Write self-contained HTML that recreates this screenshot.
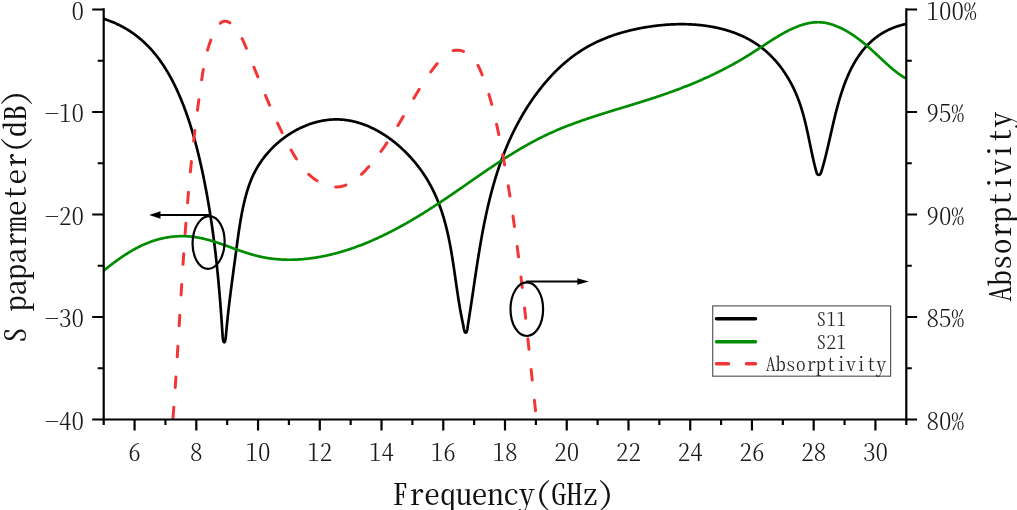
<!DOCTYPE html>
<html><head><meta charset="utf-8"><style>
html,body{margin:0;padding:0;background:#fff;}
svg{display:block;}
text{font-family:"Liberation Serif",serif;}
.tk text{font-size:25px;font-family:"Noto Serif CJK SC","Liberation Serif",serif;font-feature-settings:"hwid" 1;font-weight:300;}
</style></head><body>
<svg width="1017" height="510" viewBox="0 0 1017 510">
<rect width="1017" height="510" fill="#fff"/>
<defs><clipPath id="pa"><rect x="103.70" y="0" width="802.60" height="419.50"/></clipPath></defs>
<g fill="none" stroke-linejoin="round" stroke-linecap="round" clip-path="url(#pa)">
<path d="M103.79,18.89 L104.47,19.11 L105.15,19.33 L105.83,19.55 L106.50,19.78 L107.17,20.01 L107.83,20.25 L108.49,20.48 L109.15,20.73 L109.81,20.97 L110.46,21.22 L111.11,21.47 L111.75,21.73 L112.39,21.99 L113.03,22.25 L113.66,22.52 L114.30,22.79 L114.92,23.06 L115.55,23.34 L116.17,23.62 L116.79,23.90 L117.40,24.19 L118.01,24.48 L118.62,24.77 L119.23,25.07 L119.83,25.37 L120.43,25.67 L121.02,25.98 L121.61,26.29 L122.20,26.60 L122.79,26.92 L123.37,27.24 L123.95,27.56 L124.53,27.89 L125.10,28.21 L125.67,28.55 L126.24,28.88 L126.80,29.22 L127.36,29.56 L127.92,29.90 L128.47,30.25 L129.03,30.60 L129.57,30.96 L130.12,31.31 L130.66,31.67 L131.20,32.03 L131.74,32.40 L132.27,32.77 L132.80,33.14 L133.33,33.51 L133.86,33.89 L134.38,34.27 L134.90,34.65 L135.41,35.03 L135.93,35.42 L136.44,35.81 L136.95,36.21 L137.45,36.60 L137.95,37.00 L138.45,37.40 L138.95,37.81 L139.44,38.22 L139.93,38.63 L140.42,39.04 L140.91,39.45 L141.39,39.87 L141.87,40.29 L142.35,40.71 L142.82,41.14 L143.29,41.57 L143.76,42.00 L144.23,42.43 L144.69,42.87 L145.15,43.30 L145.61,43.75 L146.07,44.19 L146.52,44.63 L146.97,45.08 L147.42,45.53 L147.87,45.98 L148.31,46.44 L148.75,46.90 L149.19,47.36 L149.62,47.82 L150.06,48.28 L150.49,48.75 L150.91,49.22 L151.34,49.69 L151.76,50.16 L152.18,50.64 L152.60,51.12 L153.02,51.60 L153.43,52.08 L153.84,52.56 L154.25,53.05 L154.65,53.54 L155.06,54.03 L155.46,54.52 L155.86,55.02 L156.26,55.51 L156.65,56.01 L157.04,56.51 L157.43,57.02 L157.82,57.52 L158.20,58.03 L158.59,58.54 L158.97,59.05 L159.35,59.56 L159.72,60.07 L160.10,60.59 L160.47,61.11 L160.84,61.63 L161.20,62.15 L161.57,62.68 L161.93,63.20 L162.29,63.73 L162.65,64.26 L163.01,64.79 L163.36,65.32 L163.72,65.86 L164.07,66.39 L164.41,66.93 L164.76,67.47 L165.10,68.01 L165.45,68.56 L165.79,69.10 L166.12,69.65 L166.46,70.19 L166.79,70.74 L167.13,71.29 L167.46,71.85 L167.79,72.40 L168.11,72.96 L168.44,73.51 L168.76,74.07 L169.08,74.63 L169.40,75.19 L169.71,75.76 L170.03,76.32 L170.34,76.89 L170.65,77.45 L170.96,78.02 L171.27,78.59 L171.58,79.16 L171.88,79.74 L172.18,80.31 L172.48,80.88 L172.78,81.46 L173.08,82.04 L173.37,82.62 L173.67,83.20 L173.96,83.78 L174.25,84.36 L174.54,84.94 L174.82,85.53 L175.11,86.11 L175.39,86.70 L175.67,87.29 L175.96,87.88 L176.23,88.47 L176.51,89.06 L176.79,89.65 L177.06,90.24 L177.33,90.84 L177.60,91.43 L177.87,92.03 L178.14,92.63 L178.41,93.22 L178.67,93.82 L178.93,94.42 L179.19,95.02 L179.45,95.62 L179.71,96.23 L179.97,96.83 L180.23,97.43 L180.48,98.04 L180.73,98.64 L180.99,99.25 L181.24,99.86 L181.48,100.47 L181.73,101.07 L181.98,101.68 L182.22,102.29 L182.47,102.90 L182.71,103.52 L182.95,104.13 L183.19,104.74 L183.43,105.35 L183.66,105.97 L183.90,106.58 L184.13,107.20 L184.37,107.81 L184.60,108.43 L184.83,109.05 L185.06,109.67 L185.29,110.28 L185.51,110.90 L185.74,111.52 L185.96,112.14 L186.18,112.76 L186.41,113.38 L186.63,114.01 L186.85,114.63 L187.06,115.25 L187.28,115.88 L187.50,116.50 L187.71,117.12 L187.92,117.75 L188.14,118.37 L188.35,119.00 L188.56,119.63 L188.77,120.25 L188.97,120.88 L189.18,121.51 L189.39,122.14 L189.59,122.77 L189.79,123.40 L190.00,124.03 L190.20,124.66 L190.40,125.29 L190.59,125.92 L190.79,126.55 L190.99,127.18 L191.18,127.82 L191.38,128.45 L191.57,129.08 L191.76,129.72 L191.96,130.35 L192.15,130.99 L192.34,131.62 L192.52,132.26 L192.71,132.89 L192.90,133.53 L193.08,134.17 L193.27,134.80 L193.45,135.44 L193.63,136.08 L193.81,136.72 L193.99,137.35 L194.17,137.99 L194.35,138.63 L194.53,139.27 L194.70,139.91 L194.88,140.55 L195.06,141.19 L195.23,141.83 L195.40,142.47 L195.57,143.11 L195.74,143.75 L195.91,144.39 L196.08,145.04 L196.25,145.68 L196.42,146.32 L196.59,146.96 L196.75,147.60 L196.92,148.25 L197.08,148.89 L197.24,149.53 L197.41,150.18 L197.57,150.82 L197.73,151.46 L197.89,152.11 L198.05,152.75 L198.20,153.40 L198.36,154.04 L198.52,154.69 L198.67,155.33 L198.83,155.98 L198.98,156.62 L199.14,157.27 L199.29,157.91 L199.44,158.56 L199.59,159.20 L199.74,159.85 L199.89,160.49 L200.04,161.14 L200.19,161.78 L200.34,162.43 L200.49,163.08 L200.63,163.72 L200.78,164.37 L200.92,165.01 L201.07,165.66 L201.21,166.31 L201.35,166.95 L201.50,167.60 L201.64,168.24 L201.78,168.89 L201.92,169.54 L202.06,170.18 L202.20,170.83 L202.34,171.48 L202.47,172.12 L202.61,172.77 L202.75,173.41 L202.88,174.06 L203.02,174.71 L203.15,175.35 L203.29,176.00 L203.42,176.64 L203.56,177.29 L203.69,177.94 L203.82,178.58 L203.95,179.23 L204.08,179.87 L204.21,180.52 L204.34,181.17 L204.47,181.81 L204.60,182.46 L204.73,183.10 L204.85,183.75 L204.98,184.40 L205.10,185.04 L205.23,185.69 L205.36,186.33 L205.48,186.98 L205.60,187.63 L205.73,188.27 L205.85,188.92 L205.97,189.56 L206.09,190.21 L206.21,190.85 L206.33,191.50 L206.45,192.15 L206.57,192.79 L206.69,193.44 L206.81,194.08 L206.93,194.73 L207.04,195.38 L207.16,196.02 L207.28,196.67 L207.39,197.31 L207.51,197.96 L207.62,198.60 L207.73,199.25 L207.85,199.90 L207.96,200.54 L208.07,201.19 L208.18,201.83 L208.29,202.48 L208.40,203.13 L208.51,203.77 L208.62,204.42 L208.73,205.06 L208.84,205.71 L208.95,206.36 L209.06,207.00 L209.16,207.65 L209.27,208.29 L209.38,208.94 L209.48,209.59 L209.59,210.23 L209.69,210.88 L209.79,211.53 L209.90,212.17 L210.00,212.82 L210.10,213.46 L210.20,214.11 L210.31,214.76 L210.41,215.40 L210.51,216.05 L210.61,216.69 L210.71,217.34 L210.81,217.99 L210.90,218.63 L211.00,219.28 L211.10,219.93 L211.20,220.57 L211.29,221.22 L211.39,221.87 L211.48,222.51 L211.58,223.16 L211.67,223.81 L211.77,224.45 L211.86,225.10 L211.96,225.75 L212.05,226.39 L212.14,227.04 L212.23,227.69 L212.32,228.33 L212.42,228.98 L212.51,229.63 L212.60,230.27 L212.69,230.92 L212.77,231.57 L212.86,232.22 L212.95,232.86 L213.04,233.51 L213.13,234.16 L213.21,234.80 L213.30,235.45 L213.39,236.10 L213.47,236.75 L213.56,237.39 L213.64,238.04 L213.73,238.69 L213.81,239.34 L213.89,239.98 L213.98,240.63 L214.06,241.28 L214.14,241.93 L214.23,242.57 L214.31,243.22 L214.39,243.87 L214.47,244.52 L214.55,245.17 L214.63,245.81 L214.71,246.46 L214.79,247.11 L214.87,247.76 L214.94,248.41 L215.02,249.05 L215.10,249.70 L215.18,250.35 L215.25,251.00 L215.33,251.65 L215.41,252.30 L215.48,252.95 L215.56,253.59 L215.63,254.24 L215.71,254.89 L215.78,255.54 L215.85,256.19 L215.93,256.84 L216.00,257.49 L216.07,258.14 L216.14,258.79 L216.22,259.43 L216.29,260.08 L216.36,260.73 L216.43,261.38 L216.50,262.03 L216.57,262.68 L216.64,263.33 L216.71,263.98 L216.78,264.63 L216.85,265.28 L216.92,265.93 L216.98,266.58 L217.05,267.23 L217.12,267.88 L217.18,268.53 L217.25,269.18 L217.32,269.83 L217.38,270.48 L217.45,271.13 L217.51,271.78 L217.58,272.43 L217.64,273.08 L217.71,273.74 L217.77,274.39 L217.84,275.04 L217.90,275.69 L217.96,276.34 L218.03,276.99 L218.09,277.64 L218.15,278.29 L218.21,278.94 L218.27,279.60 L218.33,280.25 L218.39,280.90 L218.46,281.55 L218.52,282.20 L218.58,282.85 L218.63,283.51 L218.69,284.16 L218.75,284.81 L218.81,285.46 L218.87,286.12 L218.93,286.77 L218.99,287.42 L219.04,288.07 L219.10,288.73 L219.16,289.38 L219.22,290.03 L219.27,290.68 L219.33,291.34 L219.38,291.99 L219.44,292.64 L219.50,293.30 L219.55,293.95 L219.61,294.61 L219.66,295.26 L219.71,295.91 L219.77,296.57 L219.82,297.22 L219.88,297.87 L219.93,298.53 L219.98,299.18 L220.03,299.84 L220.09,300.49 L220.14,301.15 L220.19,301.80 L220.24,302.46 L220.30,303.11 L220.35,303.77 L220.40,304.42 L220.45,305.08 L220.50,305.73 L220.55,306.39 L220.60,307.04 L220.65,307.70 L220.70,308.35 L220.75,309.01 L220.80,309.67 L220.85,310.32 L220.90,310.98 L220.94,311.63 L220.99,312.29 L221.04,312.95 L221.09,313.60 L221.14,314.26 L221.18,314.92 L221.23,315.58 L221.28,316.23 L221.33,316.89 L221.37,317.55 L221.42,318.20 L221.47,318.86 L221.51,319.52 L221.56,320.18 L221.60,320.84 L221.65,321.49 L221.69,322.15 L221.74,322.81 L221.79,323.47 L221.83,324.13 L221.87,324.79 L221.92,325.45 L221.96,326.10 L222.01,326.76 L222.05,327.42 L222.10,328.08 L222.14,328.74 L222.18,329.40 L222.23,330.06 L222.27,330.72 L222.31,331.38 L222.35,332.04 L222.40,332.70 L222.45,333.46 L222.50,334.21 L222.55,334.95 L222.61,335.68 L222.66,336.40 L222.73,337.09 L222.79,337.76 L222.87,338.40 L222.95,339.01 L223.03,339.58 L223.12,340.10 L223.22,340.58 L223.33,341.01 L223.45,341.39 L223.58,341.71 L223.72,341.96 L223.87,342.15 L224.03,342.26 L224.20,342.30 L224.37,342.26 L224.54,342.15 L224.69,341.96 L224.83,341.70 L224.97,341.39 L225.09,341.01 L225.21,340.58 L225.32,340.10 L225.42,339.57 L225.52,339.00 L225.61,338.40 L225.69,337.76 L225.77,337.09 L225.85,336.39 L225.92,335.68 L226.00,334.95 L226.07,334.21 L226.13,333.45 L226.20,332.70 L226.26,332.03 L226.32,331.37 L226.38,330.70 L226.44,330.04 L226.50,329.38 L226.56,328.71 L226.62,328.05 L226.68,327.39 L226.74,326.72 L226.81,326.06 L226.87,325.40 L226.94,324.74 L227.00,324.08 L227.07,323.42 L227.13,322.76 L227.20,322.10 L227.26,321.44 L227.33,320.78 L227.40,320.12 L227.47,319.46 L227.54,318.81 L227.60,318.15 L227.67,317.49 L227.74,316.83 L227.81,316.18 L227.88,315.52 L227.96,314.87 L228.03,314.21 L228.10,313.55 L228.17,312.90 L228.24,312.24 L228.32,311.59 L228.39,310.94 L228.47,310.28 L228.54,309.63 L228.61,308.97 L228.69,308.32 L228.77,307.67 L228.84,307.01 L228.92,306.36 L228.99,305.71 L229.07,305.06 L229.15,304.41 L229.23,303.75 L229.30,303.10 L229.38,302.45 L229.46,301.80 L229.54,301.15 L229.62,300.50 L229.70,299.85 L229.78,299.20 L229.86,298.55 L229.94,297.90 L230.02,297.25 L230.10,296.60 L230.18,295.95 L230.26,295.30 L230.34,294.65 L230.42,294.00 L230.51,293.35 L230.59,292.70 L230.67,292.05 L230.75,291.40 L230.84,290.75 L230.92,290.11 L231.00,289.46 L231.09,288.81 L231.17,288.16 L231.26,287.51 L231.34,286.86 L231.43,286.21 L231.51,285.57 L231.59,284.92 L231.68,284.27 L231.76,283.62 L231.85,282.97 L231.94,282.33 L232.02,281.68 L232.11,281.03 L232.19,280.38 L232.28,279.73 L232.37,279.09 L232.45,278.44 L232.54,277.79 L232.63,277.14 L232.71,276.49 L232.80,275.84 L232.89,275.20 L232.97,274.55 L233.06,273.90 L233.15,273.25 L233.23,272.60 L233.32,271.95 L233.41,271.30 L233.50,270.66 L233.58,270.01 L233.67,269.36 L233.76,268.71 L233.85,268.06 L233.93,267.41 L234.02,266.76 L234.11,266.11 L234.20,265.46 L234.29,264.81 L234.37,264.16 L234.46,263.51 L234.55,262.86 L234.64,262.21 L234.72,261.56 L234.81,260.91 L234.90,260.26 L234.99,259.61 L235.08,258.96 L235.16,258.30 L235.25,257.65 L235.34,257.00 L235.43,256.35 L235.51,255.70 L235.60,255.04 L235.69,254.39 L235.77,253.74 L235.86,253.09 L235.95,252.43 L236.04,251.78 L236.12,251.12 L236.21,250.47 L236.30,249.82 L236.38,249.16 L236.47,248.51 L236.56,247.85 L236.64,247.20 L236.73,246.54 L236.82,245.88 L236.90,245.23 L236.99,244.57 L237.08,243.92 L237.17,243.26 L237.26,242.60 L237.34,241.95 L237.43,241.29 L237.52,240.63 L237.61,239.98 L237.70,239.32 L237.79,238.66 L237.88,238.00 L237.97,237.35 L238.06,236.69 L238.16,236.03 L238.25,235.38 L238.34,234.72 L238.44,234.06 L238.53,233.40 L238.62,232.75 L238.72,232.09 L238.82,231.43 L238.91,230.77 L239.01,230.12 L239.11,229.46 L239.21,228.80 L239.31,228.14 L239.41,227.49 L239.51,226.83 L239.62,226.17 L239.72,225.52 L239.82,224.86 L239.93,224.20 L240.04,223.55 L240.14,222.89 L240.25,222.23 L240.36,221.58 L240.47,220.92 L240.58,220.26 L240.70,219.61 L240.81,218.95 L240.93,218.30 L241.04,217.64 L241.16,216.99 L241.28,216.33 L241.40,215.68 L241.52,215.02 L241.64,214.37 L241.77,213.72 L241.89,213.06 L242.02,212.41 L242.15,211.76 L242.28,211.10 L242.41,210.45 L242.55,209.80 L242.68,209.15 L242.82,208.49 L242.95,207.84 L243.09,207.19 L243.24,206.54 L243.38,205.89 L243.52,205.24 L243.67,204.59 L243.82,203.94 L243.97,203.29 L244.12,202.65 L244.27,202.00 L244.43,201.35 L244.58,200.70 L244.74,200.06 L244.90,199.41 L245.07,198.76 L245.23,198.12 L245.40,197.47 L245.57,196.83 L245.74,196.18 L245.91,195.54 L246.09,194.90 L246.27,194.26 L246.45,193.62 L246.63,192.98 L246.82,192.34 L247.01,191.70 L247.20,191.06 L247.39,190.42 L247.59,189.79 L247.79,189.15 L247.99,188.52 L248.19,187.89 L248.40,187.25 L248.61,186.62 L248.83,186.00 L249.04,185.37 L249.26,184.74 L249.49,184.12 L249.72,183.49 L249.95,182.87 L250.18,182.25 L250.42,181.63 L250.66,181.01 L250.91,180.39 L251.16,179.78 L251.41,179.17 L251.66,178.56 L251.92,177.95 L252.19,177.34 L252.46,176.73 L252.73,176.13 L253.01,175.53 L253.29,174.93 L253.57,174.33 L253.86,173.73 L254.16,173.14 L254.45,172.54 L254.76,171.95 L255.06,171.37 L255.38,170.78 L255.69,170.20 L256.01,169.61 L256.33,169.03 L256.66,168.46 L257.00,167.88 L257.33,167.31 L257.67,166.74 L258.02,166.17 L258.36,165.61 L258.72,165.04 L259.07,164.48 L259.43,163.92 L259.80,163.37 L260.17,162.81 L260.54,162.26 L260.91,161.71 L261.29,161.17 L261.68,160.62 L262.07,160.08 L262.46,159.54 L262.85,159.01 L263.25,158.47 L263.65,157.94 L264.06,157.41 L264.47,156.89 L264.88,156.36 L265.29,155.84 L265.71,155.33 L266.14,154.81 L266.56,154.30 L266.99,153.79 L267.43,153.28 L267.86,152.78 L268.30,152.28 L268.75,151.78 L269.19,151.29 L269.64,150.80 L270.10,150.31 L270.55,149.82 L271.01,149.34 L271.47,148.86 L271.94,148.38 L272.41,147.91 L272.88,147.44 L273.36,146.97 L273.83,146.51 L274.31,146.04 L274.80,145.59 L275.28,145.13 L275.77,144.68 L276.26,144.23 L276.76,143.79 L277.26,143.34 L277.76,142.91 L278.26,142.47 L278.77,142.04 L279.28,141.61 L279.79,141.18 L280.30,140.76 L280.82,140.34 L281.34,139.93 L281.86,139.52 L282.38,139.11 L282.91,138.71 L283.44,138.31 L283.97,137.91 L284.50,137.51 L285.04,137.12 L285.57,136.74 L286.12,136.35 L286.66,135.98 L287.20,135.60 L287.75,135.23 L288.30,134.86 L288.85,134.50 L289.40,134.13 L289.96,133.78 L290.52,133.43 L291.08,133.08 L291.64,132.73 L292.20,132.39 L292.77,132.05 L293.34,131.72 L293.91,131.39 L294.48,131.06 L295.05,130.74 L295.63,130.42 L296.20,130.11 L296.78,129.80 L297.36,129.50 L297.95,129.19 L298.53,128.90 L299.12,128.60 L299.70,128.31 L300.29,128.03 L300.88,127.75 L301.47,127.47 L302.07,127.20 L302.66,126.93 L303.26,126.67 L303.85,126.41 L304.45,126.16 L305.05,125.91 L305.66,125.66 L306.26,125.42 L306.86,125.18 L307.47,124.95 L308.07,124.72 L308.68,124.49 L309.29,124.28 L309.90,124.06 L310.51,123.85 L311.12,123.64 L311.74,123.44 L312.35,123.25 L312.97,123.05 L313.58,122.87 L314.20,122.68 L314.82,122.51 L315.44,122.33 L316.06,122.17 L316.68,122.00 L317.30,121.84 L317.92,121.69 L318.54,121.54 L319.17,121.40 L319.79,121.26 L320.42,121.12 L321.04,120.99 L321.67,120.87 L322.30,120.75 L322.92,120.63 L323.55,120.52 L324.18,120.42 L324.81,120.32 L325.44,120.22 L326.07,120.13 L326.69,120.05 L327.33,119.97 L327.96,119.90 L328.59,119.83 L329.22,119.76 L329.85,119.70 L330.48,119.65 L331.11,119.60 L331.74,119.56 L332.37,119.52 L333.01,119.49 L333.64,119.46 L334.27,119.44 L334.90,119.43 L335.53,119.42 L336.16,119.41 L336.80,119.41 L337.43,119.42 L338.06,119.43 L338.69,119.44 L339.32,119.47 L339.95,119.49 L340.58,119.53 L341.21,119.57 L341.84,119.61 L342.47,119.66 L343.10,119.72 L343.73,119.78 L344.36,119.84 L344.99,119.91 L345.61,119.99 L346.24,120.07 L346.87,120.16 L347.49,120.25 L348.12,120.35 L348.75,120.46 L349.37,120.56 L350.00,120.68 L350.62,120.80 L351.24,120.92 L351.86,121.05 L352.49,121.18 L353.11,121.32 L353.73,121.46 L354.35,121.61 L354.97,121.77 L355.59,121.93 L356.21,122.09 L356.82,122.26 L357.44,122.43 L358.06,122.61 L358.67,122.79 L359.28,122.98 L359.90,123.17 L360.51,123.37 L361.12,123.57 L361.73,123.77 L362.34,123.98 L362.95,124.20 L363.56,124.42 L364.17,124.64 L364.77,124.87 L365.38,125.11 L365.98,125.34 L366.59,125.59 L367.19,125.83 L367.79,126.08 L368.39,126.34 L368.99,126.60 L369.59,126.86 L370.19,127.13 L370.78,127.40 L371.38,127.68 L371.97,127.96 L372.56,128.24 L373.15,128.53 L373.74,128.82 L374.33,129.12 L374.92,129.42 L375.50,129.72 L376.09,130.03 L376.67,130.34 L377.26,130.66 L377.84,130.98 L378.42,131.30 L378.99,131.63 L379.57,131.96 L380.15,132.30 L380.72,132.64 L381.29,132.98 L381.86,133.33 L382.43,133.68 L383.00,134.03 L383.57,134.39 L384.13,134.75 L384.69,135.11 L385.26,135.48 L385.82,135.85 L386.37,136.23 L386.93,136.61 L387.49,136.99 L388.04,137.37 L388.59,137.76 L389.14,138.15 L389.69,138.55 L390.24,138.95 L390.78,139.35 L391.33,139.75 L391.87,140.16 L392.41,140.57 L392.94,140.98 L393.48,141.40 L394.01,141.82 L394.55,142.24 L395.08,142.67 L395.61,143.10 L396.13,143.53 L396.66,143.97 L397.18,144.41 L397.70,144.85 L398.22,145.29 L398.73,145.74 L399.25,146.19 L399.76,146.64 L400.27,147.09 L400.78,147.55 L401.29,148.01 L401.79,148.47 L402.29,148.94 L402.79,149.41 L403.29,149.88 L403.78,150.35 L404.28,150.83 L404.77,151.30 L405.26,151.78 L405.74,152.27 L406.23,152.75 L406.71,153.24 L407.19,153.73 L407.67,154.22 L408.14,154.72 L408.61,155.21 L409.08,155.71 L409.55,156.21 L410.02,156.72 L410.48,157.22 L410.94,157.73 L411.40,158.24 L411.85,158.75 L412.30,159.27 L412.76,159.78 L413.20,160.30 L413.65,160.82 L414.09,161.34 L414.53,161.87 L414.97,162.39 L415.40,162.92 L415.83,163.45 L416.26,163.98 L416.69,164.51 L417.11,165.05 L417.54,165.58 L417.95,166.12 L418.37,166.66 L418.78,167.20 L419.19,167.74 L419.60,168.29 L420.00,168.83 L420.41,169.38 L420.80,169.93 L421.20,170.48 L421.59,171.03 L421.98,171.58 L422.37,172.14 L422.75,172.69 L423.14,173.25 L423.51,173.81 L423.89,174.37 L424.26,174.93 L424.63,175.49 L425.00,176.05 L425.36,176.62 L425.72,177.18 L426.07,177.75 L426.43,178.32 L426.78,178.88 L427.13,179.45 L427.47,180.02 L427.81,180.60 L428.15,181.17 L428.48,181.74 L428.81,182.32 L429.14,182.89 L429.47,183.47 L429.79,184.05 L430.11,184.62 L430.43,185.20 L430.74,185.78 L431.05,186.37 L431.36,186.95 L431.66,187.53 L431.97,188.11 L432.27,188.70 L432.56,189.28 L432.86,189.87 L433.15,190.46 L433.43,191.05 L433.72,191.64 L434.00,192.23 L434.28,192.82 L434.56,193.41 L434.83,194.00 L435.10,194.60 L435.37,195.19 L435.64,195.79 L435.90,196.38 L436.16,196.98 L436.42,197.58 L436.68,198.17 L436.93,198.77 L437.18,199.37 L437.43,199.98 L437.68,200.58 L437.92,201.18 L438.16,201.78 L438.40,202.39 L438.64,202.99 L438.87,203.60 L439.10,204.20 L439.33,204.81 L439.56,205.42 L439.79,206.03 L440.01,206.64 L440.23,207.25 L440.45,207.86 L440.66,208.47 L440.88,209.08 L441.09,209.70 L441.30,210.31 L441.51,210.92 L441.71,211.54 L441.91,212.16 L442.12,212.77 L442.31,213.39 L442.51,214.01 L442.71,214.62 L442.90,215.24 L443.09,215.86 L443.28,216.48 L443.47,217.11 L443.65,217.73 L443.84,218.35 L444.02,218.97 L444.20,219.60 L444.37,220.22 L444.55,220.84 L444.72,221.47 L444.90,222.10 L445.07,222.72 L445.24,223.35 L445.40,223.98 L445.57,224.61 L445.73,225.23 L445.90,225.86 L446.06,226.49 L446.21,227.12 L446.37,227.76 L446.53,228.39 L446.68,229.02 L446.84,229.65 L446.99,230.28 L447.14,230.92 L447.28,231.55 L447.43,232.19 L447.58,232.82 L447.72,233.46 L447.86,234.09 L448.00,234.73 L448.14,235.37 L448.28,236.00 L448.42,236.64 L448.56,237.28 L448.69,237.92 L448.82,238.56 L448.96,239.20 L449.09,239.84 L449.22,240.48 L449.34,241.12 L449.47,241.76 L449.60,242.40 L449.72,243.05 L449.85,243.69 L449.97,244.33 L450.09,244.97 L450.21,245.62 L450.33,246.26 L450.45,246.91 L450.57,247.55 L450.69,248.20 L450.80,248.84 L450.92,249.49 L451.03,250.13 L451.14,250.78 L451.26,251.43 L451.37,252.07 L451.48,252.72 L451.59,253.37 L451.70,254.02 L451.80,254.67 L451.91,255.31 L452.02,255.96 L452.13,256.61 L452.23,257.26 L452.34,257.91 L452.44,258.56 L452.54,259.21 L452.65,259.86 L452.75,260.51 L452.85,261.16 L452.95,261.81 L453.05,262.47 L453.15,263.12 L453.25,263.77 L453.35,264.42 L453.45,265.07 L453.55,265.73 L453.65,266.38 L453.74,267.03 L453.84,267.68 L453.94,268.34 L454.03,268.99 L454.13,269.64 L454.22,270.30 L454.32,270.95 L454.42,271.61 L454.51,272.26 L454.61,272.91 L454.70,273.57 L454.79,274.22 L454.89,274.88 L454.98,275.53 L455.08,276.19 L455.17,276.84 L455.26,277.50 L455.36,278.15 L455.45,278.81 L455.55,279.46 L455.64,280.12 L455.73,280.77 L455.83,281.43 L455.92,282.08 L456.02,282.74 L456.11,283.39 L456.20,284.05 L456.30,284.70 L456.39,285.36 L456.49,286.01 L456.58,286.67 L456.68,287.33 L456.77,287.98 L456.87,288.64 L456.96,289.29 L457.06,289.95 L457.16,290.60 L457.25,291.26 L457.35,291.91 L457.45,292.57 L457.55,293.22 L457.65,293.88 L457.74,294.53 L457.84,295.19 L457.94,295.84 L458.04,296.50 L458.14,297.15 L458.25,297.81 L458.35,298.46 L458.45,299.12 L458.55,299.77 L458.66,300.43 L458.76,301.08 L458.87,301.74 L458.97,302.39 L459.08,303.04 L459.19,303.70 L459.29,304.35 L459.40,305.00 L459.51,305.66 L459.62,306.31 L459.73,306.96 L459.84,307.61 L459.96,308.27 L460.07,308.92 L460.18,309.57 L460.30,310.22 L460.42,310.88 L460.53,311.53 L460.65,312.18 L460.77,312.83 L460.89,313.48 L461.01,314.13 L461.13,314.78 L461.26,315.43 L461.38,316.08 L461.51,316.73 L461.63,317.38 L461.76,318.03 L461.89,318.68 L462.02,319.33 L462.15,319.97 L462.28,320.62 L462.42,321.27 L462.55,321.92 L462.69,322.56 L462.83,323.21 L462.97,323.86 L463.11,324.50 L463.24,325.13 L463.36,325.75 L463.47,326.37 L463.58,326.99 L463.69,327.59 L463.79,328.17 L463.90,328.73 L464.01,329.28 L464.11,329.79 L464.23,330.27 L464.35,330.72 L464.47,331.13 L464.61,331.50 L464.76,331.82 L464.91,332.09 L465.09,332.31 L465.27,332.47 L465.48,332.57 L465.70,332.60 L465.92,332.57 L466.12,332.47 L466.31,332.31 L466.48,332.09 L466.63,331.82 L466.77,331.51 L466.89,331.14 L467.01,330.73 L467.11,330.29 L467.21,329.80 L467.31,329.29 L467.39,328.75 L467.48,328.19 L467.56,327.60 L467.65,327.00 L467.73,326.39 L467.82,325.76 L467.91,325.13 L468.01,324.50 L468.12,323.85 L468.22,323.20 L468.33,322.55 L468.43,321.90 L468.54,321.25 L468.64,320.60 L468.74,319.95 L468.85,319.30 L468.95,318.65 L469.05,318.00 L469.16,317.34 L469.26,316.69 L469.36,316.04 L469.46,315.39 L469.56,314.74 L469.66,314.09 L469.77,313.43 L469.87,312.78 L469.97,312.13 L470.07,311.48 L470.17,310.82 L470.27,310.17 L470.37,309.52 L470.47,308.87 L470.57,308.21 L470.67,307.56 L470.76,306.91 L470.86,306.25 L470.96,305.60 L471.06,304.95 L471.16,304.29 L471.26,303.64 L471.36,302.99 L471.45,302.33 L471.55,301.68 L471.65,301.03 L471.75,300.37 L471.84,299.72 L471.94,299.06 L472.04,298.41 L472.14,297.76 L472.23,297.10 L472.33,296.45 L472.43,295.79 L472.52,295.14 L472.62,294.48 L472.72,293.83 L472.82,293.17 L472.91,292.52 L473.01,291.87 L473.11,291.21 L473.20,290.56 L473.30,289.90 L473.40,289.25 L473.49,288.59 L473.59,287.94 L473.69,287.28 L473.78,286.63 L473.88,285.97 L473.98,285.32 L474.07,284.66 L474.17,284.01 L474.27,283.35 L474.36,282.70 L474.46,282.04 L474.56,281.39 L474.66,280.73 L474.75,280.08 L474.85,279.42 L474.95,278.77 L475.05,278.11 L475.14,277.46 L475.24,276.80 L475.34,276.15 L475.44,275.49 L475.54,274.84 L475.64,274.18 L475.73,273.53 L475.83,272.87 L475.93,272.22 L476.03,271.56 L476.13,270.91 L476.23,270.25 L476.33,269.60 L476.43,268.94 L476.53,268.29 L476.63,267.63 L476.73,266.98 L476.83,266.32 L476.93,265.67 L477.03,265.02 L477.13,264.36 L477.23,263.71 L477.34,263.05 L477.44,262.40 L477.54,261.74 L477.64,261.09 L477.75,260.44 L477.85,259.78 L477.95,259.13 L478.06,258.47 L478.16,257.82 L478.27,257.17 L478.37,256.51 L478.48,255.86 L478.58,255.20 L478.69,254.55 L478.79,253.90 L478.90,253.24 L479.01,252.59 L479.11,251.94 L479.22,251.29 L479.33,250.63 L479.44,249.98 L479.54,249.33 L479.65,248.67 L479.76,248.02 L479.87,247.37 L479.98,246.72 L480.09,246.06 L480.20,245.41 L480.32,244.76 L480.43,244.11 L480.54,243.46 L480.65,242.81 L480.77,242.15 L480.88,241.50 L480.99,240.85 L481.11,240.20 L481.22,239.55 L481.34,238.90 L481.46,238.25 L481.57,237.60 L481.69,236.95 L481.81,236.30 L481.93,235.65 L482.04,235.00 L482.16,234.35 L482.28,233.70 L482.40,233.05 L482.52,232.40 L482.65,231.75 L482.77,231.10 L482.89,230.45 L483.01,229.80 L483.14,229.15 L483.26,228.50 L483.39,227.86 L483.51,227.21 L483.64,226.56 L483.76,225.91 L483.89,225.27 L484.02,224.62 L484.15,223.97 L484.28,223.32 L484.41,222.68 L484.54,222.03 L484.67,221.38 L484.80,220.74 L484.93,220.09 L485.07,219.45 L485.20,218.80 L485.33,218.16 L485.47,217.51 L485.61,216.87 L485.74,216.22 L485.88,215.58 L486.02,214.93 L486.16,214.29 L486.30,213.64 L486.44,213.00 L486.58,212.36 L486.72,211.71 L486.86,211.07 L487.00,210.43 L487.15,209.78 L487.29,209.14 L487.44,208.50 L487.59,207.86 L487.73,207.22 L487.88,206.58 L488.03,205.93 L488.18,205.29 L488.33,204.65 L488.48,204.01 L488.63,203.37 L488.79,202.73 L488.94,202.09 L489.09,201.45 L489.25,200.82 L489.41,200.18 L489.56,199.54 L489.72,198.90 L489.88,198.26 L490.04,197.62 L490.20,196.99 L490.36,196.35 L490.53,195.71 L490.69,195.08 L490.85,194.44 L491.02,193.80 L491.19,193.17 L491.35,192.53 L491.52,191.90 L491.69,191.26 L491.86,190.63 L492.03,189.99 L492.20,189.36 L492.38,188.73 L492.55,188.09 L492.73,187.46 L492.90,186.83 L493.08,186.20 L493.26,185.56 L493.44,184.93 L493.62,184.30 L493.80,183.67 L493.98,183.04 L494.16,182.41 L494.35,181.78 L494.53,181.15 L494.72,180.52 L494.91,179.89 L495.09,179.26 L495.28,178.63 L495.47,178.00 L495.67,177.38 L495.86,176.75 L496.05,176.12 L496.25,175.50 L496.44,174.87 L496.64,174.24 L496.84,173.62 L497.04,172.99 L497.24,172.37 L497.44,171.74 L497.65,171.12 L497.85,170.50 L498.06,169.87 L498.26,169.25 L498.47,168.63 L498.68,168.00 L498.89,167.38 L499.10,166.76 L499.31,166.14 L499.53,165.52 L499.74,164.90 L499.96,164.28 L500.18,163.66 L500.39,163.04 L500.61,162.42 L500.84,161.80 L501.06,161.18 L501.28,160.57 L501.51,159.95 L501.73,159.33 L501.96,158.72 L502.19,158.10 L502.42,157.48 L502.65,156.87 L502.88,156.25 L503.12,155.64 L503.35,155.03 L503.59,154.41 L503.83,153.80 L504.07,153.19 L504.31,152.58 L504.55,151.96 L504.79,151.35 L505.04,150.74 L505.29,150.13 L505.53,149.52 L505.78,148.91 L506.03,148.30 L506.28,147.69 L506.54,147.09 L506.79,146.48 L507.05,145.87 L507.31,145.26 L507.56,144.66 L507.82,144.05 L508.09,143.45 L508.35,142.84 L508.61,142.24 L508.88,141.63 L509.15,141.03 L509.42,140.43 L509.69,139.82 L509.96,139.22 L510.23,138.62 L510.51,138.02 L510.79,137.42 L511.06,136.82 L511.34,136.22 L511.62,135.62 L511.91,135.02 L512.19,134.42 L512.48,133.83 L512.76,133.23 L513.05,132.63 L513.34,132.04 L513.63,131.44 L513.93,130.85 L514.22,130.25 L514.52,129.66 L514.82,129.06 L515.12,128.47 L515.42,127.88 L515.72,127.29 L516.03,126.69 L516.33,126.10 L516.64,125.51 L516.95,124.92 L517.26,124.33 L517.58,123.74 L517.89,123.16 L518.21,122.57 L518.53,121.98 L518.85,121.39 L519.17,120.81 L519.49,120.22 L519.81,119.64 L520.14,119.05 L520.47,118.47 L520.80,117.89 L521.13,117.30 L521.46,116.72 L521.80,116.14 L522.13,115.56 L522.47,114.98 L522.81,114.40 L523.15,113.82 L523.50,113.25 L523.84,112.67 L524.19,112.09 L524.54,111.52 L524.89,110.94 L525.24,110.37 L525.59,109.80 L525.95,109.22 L526.30,108.65 L526.66,108.08 L527.02,107.51 L527.38,106.94 L527.74,106.38 L528.11,105.81 L528.47,105.25 L528.84,104.68 L529.21,104.12 L529.58,103.55 L529.96,102.99 L530.33,102.43 L530.71,101.87 L531.08,101.31 L531.46,100.76 L531.84,100.20 L532.23,99.65 L532.61,99.09 L533.00,98.54 L533.38,97.99 L533.77,97.44 L534.16,96.89 L534.55,96.34 L534.95,95.79 L535.34,95.25 L535.74,94.70 L536.14,94.16 L536.54,93.62 L536.94,93.08 L537.34,92.54 L537.75,92.00 L538.16,91.46 L538.56,90.93 L538.97,90.40 L539.38,89.86 L539.80,89.33 L540.21,88.80 L540.63,88.28 L541.04,87.75 L541.46,87.22 L541.88,86.70 L542.31,86.18 L542.73,85.66 L543.15,85.14 L543.58,84.62 L544.01,84.11 L544.44,83.59 L544.87,83.08 L545.30,82.57 L545.74,82.06 L546.17,81.55 L546.61,81.05 L547.05,80.54 L547.49,80.04 L547.93,79.54 L548.38,79.04 L548.82,78.54 L549.27,78.05 L549.72,77.55 L550.17,77.06 L550.62,76.57 L551.07,76.08 L551.53,75.60 L551.98,75.11 L552.44,74.63 L552.90,74.15 L553.36,73.67 L553.82,73.19 L554.29,72.72 L554.75,72.25 L555.22,71.78 L555.69,71.31 L556.15,70.84 L556.63,70.37 L557.10,69.91 L557.57,69.45 L558.05,68.99 L558.52,68.54 L559.00,68.08 L559.48,67.63 L559.96,67.18 L560.45,66.73 L560.93,66.28 L561.42,65.84 L561.90,65.40 L562.39,64.96 L562.88,64.52 L563.37,64.09 L563.87,63.65 L564.36,63.22 L564.86,62.80 L565.36,62.37 L565.86,61.95 L566.36,61.53 L566.86,61.11 L567.36,60.69 L567.87,60.28 L568.37,59.86 L568.88,59.46 L569.39,59.05 L569.90,58.64 L570.41,58.24 L570.92,57.84 L571.44,57.45 L571.96,57.05 L572.47,56.66 L572.99,56.27 L573.51,55.88 L574.03,55.50 L574.56,55.12 L575.08,54.74 L575.61,54.36 L576.14,53.99 L576.67,53.62 L577.20,53.25 L577.73,52.88 L578.26,52.52 L578.80,52.16 L579.33,51.80 L579.87,51.45 L580.41,51.10 L580.95,50.75 L581.49,50.40 L582.03,50.06 L582.58,49.72 L583.12,49.38 L583.67,49.04 L584.22,48.71 L584.77,48.38 L585.32,48.05 L585.87,47.73 L586.43,47.41 L586.98,47.09 L587.54,46.77 L588.10,46.46 L588.65,46.15 L589.22,45.84 L589.78,45.53 L590.34,45.23 L590.91,44.93 L591.47,44.63 L592.04,44.33 L592.61,44.04 L593.18,43.75 L593.75,43.46 L594.32,43.17 L594.89,42.89 L595.47,42.61 L596.05,42.33 L596.62,42.06 L597.20,41.78 L597.78,41.51 L598.36,41.24 L598.95,40.98 L599.53,40.71 L600.12,40.45 L600.70,40.19 L601.29,39.94 L601.88,39.68 L602.47,39.43 L603.06,39.18 L603.65,38.94 L604.25,38.69 L604.84,38.45 L605.44,38.21 L606.04,37.97 L606.64,37.74 L607.24,37.50 L607.84,37.27 L608.44,37.05 L609.04,36.82 L609.65,36.60 L610.26,36.37 L610.86,36.15 L611.47,35.94 L612.08,35.72 L612.69,35.51 L613.30,35.30 L613.92,35.09 L614.53,34.88 L615.15,34.68 L615.77,34.48 L616.38,34.28 L617.00,34.08 L617.62,33.88 L618.24,33.69 L618.87,33.50 L619.49,33.31 L620.12,33.12 L620.74,32.94 L621.37,32.75 L622.00,32.57 L622.63,32.39 L623.26,32.22 L623.89,32.04 L624.52,31.87 L625.15,31.70 L625.79,31.53 L626.43,31.36 L627.06,31.19 L627.70,31.03 L628.34,30.87 L628.98,30.71 L629.62,30.55 L630.27,30.39 L630.91,30.24 L631.55,30.09 L632.20,29.94 L632.85,29.79 L633.49,29.64 L634.14,29.50 L634.79,29.36 L635.44,29.21 L636.10,29.08 L636.75,28.94 L637.40,28.80 L638.06,28.67 L638.72,28.54 L639.37,28.41 L640.03,28.28 L640.69,28.15 L641.35,28.02 L642.01,27.90 L642.67,27.78 L643.34,27.66 L644.00,27.54 L644.66,27.43 L645.33,27.31 L646.00,27.20 L646.66,27.09 L647.33,26.98 L648.00,26.87 L648.67,26.77 L649.34,26.67 L650.01,26.57 L650.68,26.47 L651.35,26.37 L652.03,26.28 L652.70,26.18 L653.37,26.09 L654.05,26.00 L654.72,25.92 L655.40,25.83 L656.07,25.75 L656.75,25.67 L657.43,25.59 L658.11,25.51 L658.78,25.44 L659.46,25.36 L660.14,25.29 L660.82,25.22 L661.50,25.16 L662.18,25.09 L662.86,25.03 L663.54,24.97 L664.22,24.91 L664.91,24.86 L665.59,24.80 L666.27,24.75 L666.95,24.70 L667.63,24.65 L668.32,24.61 L669.00,24.57 L669.68,24.52 L670.36,24.49 L671.05,24.45 L671.73,24.42 L672.41,24.38 L673.10,24.35 L673.78,24.33 L674.47,24.30 L675.15,24.28 L675.83,24.26 L676.52,24.24 L677.20,24.23 L677.88,24.21 L678.57,24.20 L679.25,24.19 L679.93,24.19 L680.62,24.18 L681.30,24.18 L681.98,24.18 L682.66,24.18 L683.35,24.19 L684.03,24.20 L684.71,24.21 L685.39,24.22 L686.07,24.24 L686.75,24.25 L687.43,24.27 L688.11,24.30 L688.79,24.32 L689.47,24.35 L690.15,24.38 L690.83,24.41 L691.51,24.45 L692.19,24.48 L692.86,24.52 L693.54,24.57 L694.22,24.61 L694.89,24.66 L695.57,24.71 L696.24,24.76 L696.92,24.82 L697.59,24.88 L698.26,24.94 L698.94,25.00 L699.61,25.07 L700.28,25.14 L700.95,25.21 L701.62,25.28 L702.29,25.36 L702.96,25.44 L703.62,25.52 L704.29,25.60 L704.95,25.69 L705.62,25.78 L706.28,25.87 L706.95,25.97 L707.61,26.07 L708.27,26.17 L708.93,26.27 L709.59,26.38 L710.25,26.49 L710.91,26.60 L711.56,26.72 L712.22,26.83 L712.87,26.95 L713.52,27.08 L714.18,27.20 L714.83,27.33 L715.48,27.47 L716.13,27.60 L716.78,27.74 L717.42,27.88 L718.07,28.02 L718.71,28.17 L719.35,28.32 L720.00,28.47 L720.64,28.63 L721.28,28.78 L721.91,28.95 L722.55,29.11 L723.19,29.28 L723.82,29.45 L724.45,29.62 L725.08,29.80 L725.71,29.98 L726.34,30.16 L726.97,30.34 L727.59,30.53 L728.22,30.72 L728.84,30.92 L729.46,31.12 L730.08,31.32 L730.70,31.52 L731.32,31.73 L731.93,31.94 L732.54,32.15 L733.16,32.37 L733.77,32.58 L734.37,32.81 L734.98,33.03 L735.58,33.26 L736.19,33.49 L736.79,33.73 L737.39,33.97 L737.99,34.21 L738.58,34.45 L739.18,34.70 L739.77,34.95 L740.36,35.21 L740.95,35.47 L741.53,35.73 L742.12,35.99 L742.70,36.26 L743.28,36.53 L743.86,36.80 L744.44,37.08 L745.01,37.36 L745.59,37.65 L746.16,37.93 L746.73,38.22 L747.29,38.52 L747.86,38.82 L748.42,39.12 L748.98,39.42 L749.54,39.73 L750.09,40.04 L750.65,40.36 L751.20,40.67 L751.75,41.00 L752.30,41.32 L752.84,41.65 L753.38,41.98 L753.92,42.32 L754.46,42.66 L755.00,43.00 L755.53,43.34 L756.06,43.69 L756.59,44.05 L757.12,44.40 L757.64,44.76 L758.16,45.13 L758.68,45.49 L759.20,45.86 L759.71,46.24 L760.22,46.62 L760.73,47.00 L761.24,47.38 L761.74,47.77 L762.24,48.16 L762.74,48.56 L763.24,48.96 L763.73,49.36 L764.22,49.77 L764.71,50.17 L765.20,50.59 L765.68,51.00 L766.16,51.42 L766.64,51.84 L767.12,52.27 L767.59,52.70 L768.06,53.13 L768.53,53.56 L768.99,54.00 L769.46,54.44 L769.92,54.89 L770.37,55.34 L770.83,55.79 L771.28,56.24 L771.73,56.70 L772.18,57.16 L772.62,57.62 L773.07,58.08 L773.51,58.55 L773.94,59.03 L774.38,59.50 L774.81,59.98 L775.24,60.46 L775.66,60.94 L776.09,61.43 L776.51,61.92 L776.93,62.41 L777.34,62.90 L777.76,63.40 L778.17,63.90 L778.58,64.40 L778.98,64.91 L779.38,65.41 L779.78,65.93 L780.18,66.44 L780.58,66.95 L780.97,67.47 L781.36,67.99 L781.74,68.52 L782.13,69.04 L782.51,69.57 L782.89,70.10 L783.26,70.64 L783.64,71.17 L784.01,71.71 L784.38,72.25 L784.74,72.79 L785.10,73.34 L785.46,73.89 L785.82,74.44 L786.17,74.99 L786.52,75.54 L786.87,76.10 L787.22,76.66 L787.56,77.22 L787.90,77.78 L788.24,78.35 L788.58,78.91 L788.91,79.48 L789.24,80.06 L789.56,80.63 L789.89,81.20 L790.21,81.78 L790.53,82.36 L790.84,82.94 L791.16,83.53 L791.47,84.11 L791.77,84.70 L792.08,85.29 L792.38,85.88 L792.68,86.47 L792.97,87.07 L793.27,87.67 L793.56,88.27 L793.85,88.87 L794.13,89.47 L794.41,90.07 L794.69,90.68 L794.97,91.28 L795.24,91.89 L795.51,92.50 L795.78,93.12 L796.05,93.73 L796.31,94.34 L796.57,94.96 L796.82,95.58 L797.08,96.20 L797.33,96.82 L797.58,97.44 L797.82,98.07 L798.06,98.69 L798.30,99.32 L798.54,99.95 L798.77,100.58 L799.00,101.21 L799.23,101.84 L799.46,102.48 L799.68,103.11 L799.90,103.75 L800.12,104.39 L800.33,105.02 L800.54,105.66 L800.75,106.30 L800.96,106.95 L801.16,107.59 L801.37,108.23 L801.57,108.88 L801.76,109.52 L801.96,110.17 L802.15,110.82 L802.35,111.47 L802.53,112.12 L802.72,112.77 L802.91,113.42 L803.09,114.07 L803.27,114.72 L803.45,115.37 L803.63,116.03 L803.80,116.68 L803.98,117.34 L804.15,117.99 L804.32,118.65 L804.49,119.31 L804.65,119.96 L804.82,120.62 L804.98,121.28 L805.15,121.94 L805.31,122.60 L805.47,123.25 L805.62,123.91 L805.78,124.57 L805.94,125.23 L806.09,125.89 L806.24,126.55 L806.40,127.22 L806.55,127.88 L806.70,128.54 L806.84,129.20 L806.99,129.86 L807.14,130.52 L807.28,131.18 L807.43,131.84 L807.57,132.50 L807.71,133.16 L807.86,133.83 L808.00,134.49 L808.14,135.15 L808.28,135.81 L808.42,136.47 L808.56,137.13 L808.69,137.79 L808.83,138.45 L808.97,139.11 L809.11,139.76 L809.24,140.42 L809.38,141.08 L809.52,141.74 L809.65,142.39 L809.79,143.05 L809.92,143.71 L810.06,144.36 L810.19,145.02 L810.33,145.67 L810.46,146.32 L810.60,146.98 L810.73,147.63 L810.87,148.28 L811.00,148.93 L811.14,149.58 L811.27,150.23 L811.41,150.88 L811.55,151.52 L811.68,152.17 L811.82,152.82 L811.96,153.46 L812.10,154.10 L812.23,154.75 L812.37,155.39 L812.51,156.03 L812.65,156.67 L812.79,157.30 L812.94,157.94 L813.08,158.58 L813.22,159.21 L813.37,159.84 L813.51,160.47 L813.66,161.11 L813.80,161.73 L813.95,162.36 L814.10,162.99 L814.25,163.61 L814.40,164.24 L814.55,164.86 L814.71,165.48 L814.86,166.10 L815.02,166.72 L815.17,167.33 L815.33,167.95 L815.49,168.56 L815.65,169.17 L815.82,169.78 L815.98,170.39 L816.15,170.99 L816.32,171.59 L816.49,172.20 L816.54,172.40 L816.60,172.59 L816.67,172.79 L816.74,172.99 L816.81,173.18 L816.90,173.37 L816.99,173.55 L817.08,173.72 L817.19,173.89 L817.30,174.05 L817.42,174.19 L817.56,174.32 L817.70,174.44 L817.85,174.55 L818.02,174.63 L818.19,174.70 L818.38,174.76 L818.58,174.79 L818.80,174.80 L819.02,174.79 L819.22,174.76 L819.41,174.70 L819.59,174.63 L819.76,174.54 L819.91,174.44 L820.06,174.32 L820.20,174.18 L820.33,174.04 L820.44,173.88 L820.55,173.71 L820.66,173.54 L820.75,173.35 L820.84,173.17 L820.92,172.97 L821.00,172.78 L821.07,172.58 L821.14,172.38 L821.20,172.18 L821.38,171.62 L821.55,171.05 L821.72,170.48 L821.90,169.90 L822.07,169.33 L822.24,168.75 L822.41,168.18 L822.58,167.59 L822.75,167.01 L822.91,166.43 L823.08,165.84 L823.24,165.25 L823.41,164.66 L823.57,164.07 L823.73,163.48 L823.89,162.89 L824.05,162.29 L824.21,161.69 L824.37,161.09 L824.53,160.49 L824.69,159.89 L824.85,159.28 L825.00,158.67 L825.16,158.07 L825.31,157.46 L825.47,156.84 L825.62,156.23 L825.77,155.62 L825.93,155.00 L826.08,154.39 L826.23,153.77 L826.38,153.15 L826.53,152.53 L826.68,151.91 L826.83,151.28 L826.98,150.66 L827.13,150.03 L827.28,149.41 L827.42,148.78 L827.57,148.15 L827.72,147.52 L827.87,146.89 L828.01,146.25 L828.16,145.62 L828.31,144.99 L828.45,144.35 L828.60,143.71 L828.75,143.08 L828.89,142.44 L829.04,141.80 L829.18,141.16 L829.33,140.52 L829.48,139.88 L829.62,139.24 L829.77,138.59 L829.91,137.95 L830.06,137.30 L830.21,136.66 L830.35,136.01 L830.50,135.37 L830.64,134.72 L830.79,134.07 L830.94,133.42 L831.08,132.78 L831.23,132.13 L831.38,131.48 L831.53,130.83 L831.68,130.18 L831.82,129.53 L831.97,128.87 L832.12,128.22 L832.27,127.57 L832.42,126.92 L832.57,126.27 L832.72,125.61 L832.87,124.96 L833.03,124.31 L833.18,123.65 L833.33,123.00 L833.49,122.35 L833.64,121.69 L833.79,121.04 L833.95,120.39 L834.11,119.73 L834.26,119.08 L834.42,118.43 L834.58,117.77 L834.74,117.12 L834.90,116.47 L835.06,115.81 L835.22,115.16 L835.38,114.51 L835.54,113.86 L835.71,113.20 L835.87,112.55 L836.04,111.90 L836.20,111.25 L836.37,110.60 L836.54,109.95 L836.71,109.30 L836.88,108.65 L837.05,108.00 L837.23,107.35 L837.40,106.70 L837.57,106.05 L837.75,105.40 L837.93,104.76 L838.11,104.11 L838.29,103.47 L838.47,102.82 L838.65,102.18 L838.83,101.53 L839.02,100.89 L839.20,100.25 L839.39,99.61 L839.58,98.97 L839.77,98.33 L839.96,97.69 L840.16,97.05 L840.35,96.42 L840.55,95.78 L840.74,95.14 L840.94,94.51 L841.14,93.88 L841.34,93.25 L841.55,92.62 L841.75,91.99 L841.96,91.36 L842.17,90.73 L842.38,90.10 L842.59,89.48 L842.81,88.85 L843.02,88.23 L843.24,87.61 L843.46,86.99 L843.68,86.37 L843.90,85.75 L844.12,85.14 L844.35,84.52 L844.58,83.91 L844.81,83.30 L845.04,82.69 L845.28,82.08 L845.51,81.47 L845.75,80.87 L845.99,80.26 L846.23,79.66 L846.48,79.06 L846.72,78.46 L846.97,77.86 L847.22,77.27 L847.47,76.67 L847.73,76.08 L847.99,75.49 L848.24,74.90 L848.51,74.32 L848.77,73.73 L849.04,73.15 L849.30,72.57 L849.57,71.99 L849.85,71.41 L850.12,70.83 L850.40,70.26 L850.68,69.69 L850.96,69.12 L851.25,68.55 L851.54,67.99 L851.83,67.43 L852.12,66.86 L852.42,66.31 L852.71,65.75 L853.01,65.20 L853.32,64.64 L853.62,64.09 L853.93,63.55 L854.24,63.00 L854.56,62.46 L854.87,61.92 L855.19,61.38 L855.51,60.85 L855.84,60.32 L856.17,59.78 L856.50,59.26 L856.83,58.73 L857.17,58.21 L857.51,57.69 L857.85,57.17 L858.19,56.66 L858.54,56.15 L858.89,55.64 L859.25,55.13 L859.60,54.63 L859.96,54.12 L860.33,53.63 L860.69,53.13 L861.06,52.64 L861.43,52.15 L861.81,51.66 L862.19,51.18 L862.57,50.70 L862.96,50.22 L863.35,49.75 L863.74,49.27 L864.13,48.80 L864.53,48.34 L864.93,47.88 L865.34,47.42 L865.75,46.96 L866.16,46.51 L866.58,46.06 L866.99,45.61 L867.42,45.17 L867.84,44.73 L868.27,44.29 L868.71,43.86 L869.14,43.43 L869.58,43.00 L870.03,42.58 L870.47,42.16 L870.92,41.74 L871.38,41.33 L871.84,40.92 L872.30,40.51 L872.77,40.11 L873.24,39.71 L873.71,39.32 L874.19,38.93 L874.67,38.54 L875.15,38.16 L875.64,37.78 L876.13,37.40 L876.63,37.03 L877.13,36.66 L877.64,36.29 L878.15,35.93 L878.66,35.57 L879.17,35.22 L879.70,34.87 L880.22,34.53 L880.75,34.18 L881.28,33.85 L881.82,33.51 L882.36,33.18 L882.91,32.86 L883.46,32.54 L884.01,32.22 L884.57,31.91 L885.13,31.60 L885.70,31.29 L886.27,30.99 L886.84,30.70 L887.42,30.41 L888.01,30.12 L888.60,29.83 L889.19,29.56 L889.79,29.28 L890.39,29.01 L891.00,28.75 L891.61,28.49 L892.22,28.23 L892.84,27.98 L893.47,27.73 L894.10,27.49 L894.73,27.25 L895.37,27.01 L896.01,26.79 L896.66,26.56 L897.31,26.34 L897.97,26.13 L898.63,25.92 L899.30,25.71 L899.97,25.51 L900.65,25.31 L901.33,25.12 L902.01,24.94 L902.71,24.76 L903.40,24.58 L904.10,24.41 L904.81,24.24 L905.52,24.08" stroke="#000" stroke-width="2.7"/>
<path d="M103.80,270.50 L104.30,270.10 L104.81,269.70 L105.31,269.30 L105.82,268.90 L106.32,268.50 L106.83,268.10 L107.34,267.70 L107.86,267.30 L108.37,266.90 L108.89,266.49 L109.41,266.09 L109.93,265.69 L110.45,265.29 L110.97,264.89 L111.50,264.50 L112.02,264.10 L112.55,263.70 L113.08,263.30 L113.61,262.91 L114.14,262.51 L114.68,262.11 L115.21,261.72 L115.75,261.33 L116.29,260.93 L116.83,260.54 L117.38,260.15 L117.92,259.76 L118.46,259.38 L119.01,258.99 L119.56,258.61 L120.11,258.22 L120.66,257.84 L121.22,257.46 L121.77,257.08 L122.33,256.70 L122.89,256.33 L123.45,255.95 L124.01,255.58 L124.57,255.21 L125.13,254.84 L125.70,254.48 L126.27,254.12 L126.83,253.75 L127.40,253.39 L127.98,253.04 L128.55,252.68 L129.12,252.33 L129.70,251.98 L130.28,251.63 L130.86,251.29 L131.44,250.94 L132.02,250.61 L132.60,250.27 L133.18,249.93 L133.77,249.60 L134.36,249.28 L134.95,248.95 L135.54,248.63 L136.13,248.31 L136.72,247.99 L137.31,247.68 L137.91,247.37 L138.51,247.07 L139.11,246.76 L139.71,246.47 L140.31,246.17 L140.91,245.88 L141.51,245.59 L142.12,245.31 L142.72,245.03 L143.33,244.75 L143.94,244.48 L144.55,244.21 L145.16,243.94 L145.77,243.68 L146.39,243.43 L147.00,243.17 L147.62,242.93 L148.24,242.68 L148.86,242.44 L149.48,242.21 L150.10,241.98 L150.72,241.75 L151.35,241.53 L151.97,241.31 L152.60,241.10 L153.22,240.89 L153.85,240.69 L154.48,240.49 L155.11,240.29 L155.74,240.10 L156.38,239.91 L157.01,239.73 L157.64,239.55 L158.28,239.38 L158.91,239.21 L159.55,239.05 L160.19,238.89 L160.83,238.73 L161.46,238.58 L162.10,238.43 L162.74,238.29 L163.39,238.15 L164.03,238.02 L164.67,237.89 L165.31,237.77 L165.96,237.65 L166.60,237.54 L167.25,237.43 L167.89,237.32 L168.54,237.22 L169.18,237.12 L169.83,237.03 L170.48,236.94 L171.13,236.86 L171.78,236.78 L172.42,236.71 L173.07,236.64 L173.72,236.58 L174.37,236.52 L175.02,236.46 L175.67,236.41 L176.32,236.37 L176.97,236.32 L177.63,236.29 L178.28,236.26 L178.93,236.23 L179.58,236.21 L180.23,236.19 L180.88,236.18 L181.53,236.17 L182.19,236.17 L182.84,236.17 L183.49,236.18 L184.14,236.19 L184.79,236.20 L185.45,236.22 L186.10,236.25 L186.75,236.28 L187.40,236.31 L188.05,236.35 L188.70,236.40 L189.35,236.45 L190.00,236.50 L190.65,236.56 L191.30,236.63 L191.95,236.70 L192.60,236.77 L193.25,236.85 L193.90,236.93 L194.55,237.02 L195.20,237.11 L195.84,237.21 L196.49,237.32 L197.14,237.42 L197.78,237.53 L198.43,237.65 L199.08,237.77 L199.72,237.90 L200.37,238.03 L201.01,238.16 L201.66,238.30 L202.30,238.44 L202.94,238.58 L203.59,238.73 L204.23,238.89 L204.87,239.04 L205.52,239.20 L206.16,239.36 L206.80,239.53 L207.44,239.70 L208.08,239.87 L208.72,240.05 L209.37,240.23 L210.01,240.41 L210.65,240.59 L211.29,240.78 L211.93,240.97 L212.57,241.16 L213.21,241.36 L213.85,241.56 L214.49,241.76 L215.13,241.96 L215.77,242.16 L216.40,242.37 L217.04,242.58 L217.68,242.79 L218.32,243.00 L218.96,243.21 L219.60,243.43 L220.24,243.65 L220.88,243.86 L221.51,244.08 L222.15,244.31 L222.79,244.53 L223.43,244.75 L224.07,244.98 L224.70,245.20 L225.34,245.43 L225.98,245.65 L226.62,245.88 L227.25,246.11 L227.89,246.34 L228.53,246.57 L229.17,246.80 L229.81,247.03 L230.44,247.26 L231.08,247.49 L231.72,247.72 L232.36,247.95 L233.00,248.18 L233.63,248.41 L234.27,248.64 L234.91,248.87 L235.55,249.10 L236.19,249.32 L236.83,249.55 L237.47,249.78 L238.10,250.00 L238.74,250.23 L239.38,250.45 L240.02,250.67 L240.66,250.90 L241.30,251.12 L241.94,251.34 L242.58,251.55 L243.22,251.77 L243.86,251.98 L244.50,252.20 L245.14,252.41 L245.78,252.62 L246.42,252.82 L247.07,253.03 L247.71,253.23 L248.35,253.43 L248.99,253.63 L249.63,253.83 L250.28,254.02 L250.92,254.21 L251.56,254.40 L252.21,254.59 L252.85,254.77 L253.49,254.95 L254.14,255.13 L254.78,255.30 L255.43,255.48 L256.07,255.64 L256.72,255.81 L257.36,255.97 L258.01,256.13 L258.66,256.28 L259.31,256.43 L259.95,256.58 L260.60,256.72 L261.25,256.86 L261.90,257.00 L262.55,257.13 L263.20,257.26 L263.85,257.39 L264.50,257.51 L265.15,257.63 L265.80,257.75 L266.45,257.86 L267.10,257.97 L267.75,258.07 L268.40,258.17 L269.05,258.27 L269.70,258.37 L270.36,258.46 L271.01,258.55 L271.66,258.63 L272.31,258.72 L272.97,258.79 L273.62,258.87 L274.27,258.94 L274.93,259.01 L275.58,259.08 L276.24,259.14 L276.89,259.20 L277.54,259.25 L278.20,259.31 L278.85,259.36 L279.51,259.40 L280.16,259.45 L280.82,259.49 L281.47,259.53 L282.13,259.56 L282.78,259.59 L283.44,259.62 L284.09,259.64 L284.75,259.67 L285.40,259.69 L286.06,259.70 L286.71,259.72 L287.37,259.73 L288.02,259.73 L288.68,259.74 L289.33,259.74 L289.99,259.74 L290.64,259.74 L291.30,259.73 L291.95,259.72 L292.61,259.71 L293.26,259.69 L293.92,259.67 L294.57,259.65 L295.22,259.63 L295.88,259.60 L296.53,259.57 L297.19,259.54 L297.84,259.51 L298.49,259.47 L299.15,259.43 L299.80,259.39 L300.45,259.34 L301.11,259.30 L301.76,259.25 L302.41,259.19 L303.07,259.14 L303.72,259.08 L304.37,259.02 L305.02,258.96 L305.67,258.89 L306.32,258.83 L306.98,258.76 L307.63,258.68 L308.28,258.61 L308.93,258.53 L309.58,258.45 L310.23,258.37 L310.88,258.28 L311.53,258.20 L312.17,258.11 L312.82,258.02 L313.47,257.92 L314.12,257.83 L314.77,257.73 L315.41,257.63 L316.06,257.52 L316.70,257.42 L317.35,257.31 L318.00,257.20 L318.64,257.09 L319.29,256.98 L319.93,256.86 L320.57,256.74 L321.22,256.62 L321.86,256.50 L322.50,256.37 L323.14,256.25 L323.78,256.12 L324.43,255.99 L325.07,255.86 L325.71,255.72 L326.35,255.58 L326.98,255.45 L327.62,255.30 L328.26,255.16 L328.90,255.02 L329.54,254.87 L330.17,254.72 L330.81,254.57 L331.45,254.42 L332.08,254.26 L332.72,254.10 L333.35,253.94 L333.99,253.78 L334.62,253.62 L335.26,253.46 L335.89,253.29 L336.52,253.12 L337.15,252.95 L337.79,252.78 L338.42,252.60 L339.05,252.43 L339.68,252.25 L340.31,252.07 L340.94,251.89 L341.57,251.70 L342.20,251.52 L342.82,251.33 L343.45,251.14 L344.08,250.95 L344.71,250.76 L345.33,250.56 L345.96,250.37 L346.59,250.17 L347.21,249.97 L347.84,249.77 L348.46,249.57 L349.08,249.36 L349.71,249.15 L350.33,248.95 L350.95,248.74 L351.58,248.52 L352.20,248.31 L352.82,248.09 L353.44,247.88 L354.06,247.66 L354.68,247.44 L355.30,247.22 L355.92,246.99 L356.54,246.77 L357.16,246.54 L357.77,246.31 L358.39,246.08 L359.01,245.85 L359.63,245.62 L360.24,245.38 L360.86,245.15 L361.47,244.91 L362.09,244.67 L362.70,244.43 L363.32,244.18 L363.93,243.94 L364.54,243.69 L365.16,243.45 L365.77,243.20 L366.38,242.95 L366.99,242.70 L367.60,242.44 L368.21,242.19 L368.82,241.93 L369.43,241.67 L370.04,241.42 L370.65,241.16 L371.26,240.89 L371.87,240.63 L372.48,240.37 L373.08,240.10 L373.69,239.83 L374.30,239.56 L374.90,239.29 L375.51,239.02 L376.11,238.75 L376.72,238.47 L377.32,238.20 L377.92,237.92 L378.53,237.64 L379.13,237.36 L379.73,237.08 L380.33,236.80 L380.94,236.52 L381.54,236.23 L382.14,235.94 L382.74,235.66 L383.34,235.37 L383.94,235.08 L384.54,234.79 L385.13,234.50 L385.73,234.20 L386.33,233.91 L386.93,233.61 L387.52,233.31 L388.12,233.02 L388.72,232.72 L389.31,232.41 L389.91,232.11 L390.50,231.81 L391.09,231.51 L391.69,231.20 L392.28,230.89 L392.87,230.59 L393.47,230.28 L394.06,229.97 L394.65,229.66 L395.24,229.35 L395.83,229.03 L396.42,228.72 L397.01,228.40 L397.60,228.09 L398.19,227.77 L398.78,227.45 L399.37,227.13 L399.96,226.81 L400.54,226.49 L401.13,226.17 L401.72,225.85 L402.30,225.52 L402.89,225.20 L403.47,224.87 L404.06,224.54 L404.64,224.21 L405.23,223.89 L405.81,223.56 L406.39,223.23 L406.97,222.89 L407.56,222.56 L408.14,222.23 L408.72,221.89 L409.30,221.56 L409.88,221.22 L410.46,220.88 L411.04,220.55 L411.62,220.21 L412.20,219.87 L412.78,219.53 L413.35,219.19 L413.93,218.85 L414.51,218.50 L415.09,218.16 L415.66,217.81 L416.24,217.47 L416.81,217.12 L417.39,216.78 L417.96,216.43 L418.54,216.08 L419.11,215.73 L419.68,215.38 L420.26,215.03 L420.83,214.68 L421.40,214.33 L421.97,213.98 L422.54,213.63 L423.11,213.27 L423.68,212.92 L424.25,212.56 L424.82,212.21 L425.39,211.85 L425.96,211.49 L426.53,211.14 L427.09,210.78 L427.66,210.42 L428.23,210.06 L428.79,209.70 L429.36,209.34 L429.93,208.98 L430.49,208.62 L431.06,208.26 L431.62,207.89 L432.18,207.53 L432.75,207.17 L433.31,206.80 L433.87,206.44 L434.43,206.07 L435.00,205.71 L435.56,205.34 L436.12,204.98 L436.68,204.61 L437.24,204.24 L437.80,203.87 L438.36,203.51 L438.91,203.14 L439.47,202.77 L440.03,202.40 L440.59,202.03 L441.14,201.66 L441.70,201.29 L442.26,200.92 L442.81,200.55 L443.37,200.17 L443.92,199.80 L444.48,199.43 L445.03,199.06 L445.59,198.68 L446.14,198.31 L446.69,197.94 L447.25,197.56 L447.80,197.19 L448.35,196.81 L448.90,196.44 L449.45,196.06 L450.00,195.69 L450.56,195.31 L451.11,194.94 L451.66,194.56 L452.21,194.19 L452.76,193.81 L453.31,193.43 L453.85,193.06 L454.40,192.68 L454.95,192.30 L455.50,191.93 L456.05,191.55 L456.60,191.17 L457.14,190.79 L457.69,190.42 L458.24,190.04 L458.79,189.66 L459.33,189.28 L459.88,188.90 L460.43,188.53 L460.97,188.15 L461.52,187.77 L462.07,187.39 L462.61,187.01 L463.16,186.63 L463.70,186.26 L464.25,185.88 L464.79,185.50 L465.34,185.12 L465.88,184.74 L466.43,184.36 L466.97,183.98 L467.52,183.61 L468.06,183.23 L468.61,182.85 L469.15,182.47 L469.70,182.09 L470.24,181.72 L470.78,181.34 L471.33,180.96 L471.87,180.58 L472.42,180.21 L472.96,179.83 L473.50,179.45 L474.05,179.07 L474.59,178.70 L475.14,178.32 L475.68,177.94 L476.22,177.57 L476.77,177.19 L477.31,176.81 L477.86,176.44 L478.40,176.06 L478.94,175.69 L479.49,175.31 L480.03,174.94 L480.58,174.56 L481.12,174.19 L481.67,173.81 L482.21,173.44 L482.75,173.07 L483.30,172.69 L483.84,172.32 L484.39,171.95 L484.93,171.58 L485.48,171.20 L486.02,170.83 L486.57,170.46 L487.11,170.09 L487.66,169.72 L488.20,169.35 L488.75,168.98 L489.30,168.61 L489.84,168.24 L490.39,167.87 L490.93,167.51 L491.48,167.14 L492.03,166.77 L492.57,166.41 L493.12,166.04 L493.67,165.67 L494.22,165.31 L494.76,164.94 L495.31,164.58 L495.86,164.21 L496.41,163.85 L496.96,163.49 L497.51,163.13 L498.06,162.76 L498.60,162.40 L499.15,162.04 L499.70,161.68 L500.25,161.32 L500.81,160.97 L501.36,160.61 L501.91,160.25 L502.46,159.89 L503.01,159.54 L503.56,159.18 L504.11,158.82 L504.67,158.47 L505.22,158.12 L505.77,157.76 L506.33,157.41 L506.88,157.06 L507.44,156.71 L507.99,156.36 L508.55,156.01 L509.10,155.66 L509.66,155.31 L510.22,154.96 L510.77,154.62 L511.33,154.27 L511.89,153.93 L512.45,153.58 L513.00,153.24 L513.56,152.89 L514.12,152.55 L514.68,152.21 L515.24,151.87 L515.80,151.53 L516.36,151.19 L516.93,150.85 L517.49,150.52 L518.05,150.18 L518.61,149.85 L519.18,149.51 L519.74,149.18 L520.31,148.85 L520.87,148.51 L521.44,148.18 L522.00,147.85 L522.57,147.52 L523.14,147.20 L523.71,146.87 L524.28,146.54 L524.84,146.22 L525.41,145.89 L525.98,145.57 L526.55,145.25 L527.13,144.93 L527.70,144.61 L528.27,144.29 L528.84,143.97 L529.42,143.65 L529.99,143.34 L530.57,143.02 L531.14,142.71 L531.72,142.39 L532.30,142.08 L532.87,141.77 L533.45,141.46 L534.03,141.15 L534.61,140.85 L535.19,140.54 L535.77,140.24 L536.35,139.93 L536.94,139.63 L537.52,139.33 L538.10,139.03 L538.69,138.73 L539.27,138.43 L539.86,138.13 L540.45,137.84 L541.03,137.54 L541.62,137.25 L542.21,136.96 L542.80,136.67 L543.39,136.38 L543.98,136.09 L544.58,135.80 L545.17,135.52 L545.76,135.23 L546.36,134.95 L546.95,134.67 L547.55,134.39 L548.15,134.11 L548.74,133.83 L549.34,133.56 L549.94,133.28 L550.54,133.01 L551.14,132.74 L551.74,132.47 L552.35,132.20 L552.95,131.93 L553.56,131.66 L554.16,131.39 L554.77,131.13 L555.37,130.87 L555.98,130.60 L556.59,130.34 L557.20,130.08 L557.81,129.82 L558.42,129.57 L559.03,129.31 L559.64,129.06 L560.25,128.80 L560.86,128.55 L561.48,128.30 L562.09,128.05 L562.71,127.80 L563.32,127.55 L563.94,127.30 L564.56,127.05 L565.17,126.81 L565.79,126.57 L566.41,126.32 L567.03,126.08 L567.65,125.84 L568.27,125.60 L568.89,125.36 L569.51,125.12 L570.13,124.88 L570.76,124.65 L571.38,124.41 L572.00,124.18 L572.63,123.95 L573.25,123.71 L573.88,123.48 L574.50,123.25 L575.13,123.02 L575.76,122.79 L576.38,122.56 L577.01,122.34 L577.64,122.11 L578.27,121.89 L578.90,121.66 L579.53,121.44 L580.16,121.21 L580.79,120.99 L581.42,120.77 L582.05,120.55 L582.68,120.33 L583.31,120.11 L583.95,119.89 L584.58,119.67 L585.21,119.46 L585.85,119.24 L586.48,119.03 L587.11,118.81 L587.75,118.60 L588.38,118.38 L589.02,118.17 L589.65,117.96 L590.29,117.75 L590.92,117.53 L591.56,117.32 L592.20,117.11 L592.83,116.90 L593.47,116.70 L594.11,116.49 L594.75,116.28 L595.38,116.07 L596.02,115.87 L596.66,115.66 L597.30,115.45 L597.94,115.25 L598.58,115.04 L599.21,114.84 L599.85,114.64 L600.49,114.43 L601.13,114.23 L601.77,114.03 L602.41,113.82 L603.05,113.62 L603.69,113.42 L604.33,113.22 L604.97,113.02 L605.61,112.82 L606.25,112.62 L606.89,112.42 L607.53,112.22 L608.17,112.02 L608.81,111.82 L609.46,111.63 L610.10,111.43 L610.74,111.23 L611.38,111.03 L612.02,110.84 L612.66,110.64 L613.30,110.44 L613.94,110.25 L614.58,110.05 L615.22,109.85 L615.86,109.66 L616.50,109.46 L617.14,109.27 L617.79,109.07 L618.43,108.87 L619.07,108.68 L619.71,108.48 L620.35,108.29 L620.99,108.09 L621.63,107.90 L622.27,107.71 L622.91,107.51 L623.55,107.32 L624.19,107.12 L624.83,106.93 L625.47,106.73 L626.10,106.54 L626.74,106.34 L627.38,106.15 L628.02,105.95 L628.66,105.76 L629.30,105.57 L629.94,105.37 L630.57,105.18 L631.21,104.98 L631.85,104.79 L632.49,104.59 L633.12,104.40 L633.76,104.20 L634.39,104.01 L635.03,103.81 L635.67,103.61 L636.30,103.42 L636.94,103.22 L637.57,103.03 L638.21,102.83 L638.84,102.63 L639.47,102.44 L640.11,102.24 L640.74,102.04 L641.37,101.84 L642.01,101.65 L642.64,101.45 L643.27,101.25 L643.90,101.05 L644.53,100.85 L645.16,100.65 L645.79,100.45 L646.42,100.25 L647.05,100.05 L647.68,99.85 L648.31,99.65 L648.94,99.45 L649.56,99.25 L650.19,99.04 L650.82,98.84 L651.44,98.64 L652.07,98.43 L652.69,98.23 L653.32,98.03 L653.94,97.82 L654.56,97.62 L655.19,97.41 L655.81,97.20 L656.43,97.00 L657.05,96.79 L657.68,96.58 L658.30,96.37 L658.92,96.16 L659.54,95.96 L660.16,95.75 L660.78,95.53 L661.39,95.32 L662.01,95.11 L662.63,94.90 L663.25,94.69 L663.86,94.47 L664.48,94.26 L665.10,94.05 L665.71,93.83 L666.33,93.62 L666.94,93.40 L667.56,93.18 L668.17,92.97 L668.78,92.75 L669.40,92.53 L670.01,92.31 L670.62,92.09 L671.23,91.87 L671.84,91.65 L672.46,91.43 L673.07,91.21 L673.68,90.98 L674.29,90.76 L674.90,90.53 L675.51,90.31 L676.11,90.08 L676.72,89.86 L677.33,89.63 L677.94,89.40 L678.55,89.17 L679.15,88.94 L679.76,88.71 L680.37,88.48 L680.97,88.25 L681.58,88.02 L682.18,87.79 L682.79,87.55 L683.39,87.32 L684.00,87.08 L684.60,86.85 L685.20,86.61 L685.81,86.37 L686.41,86.13 L687.01,85.89 L687.61,85.65 L688.22,85.41 L688.82,85.17 L689.42,84.93 L690.02,84.69 L690.62,84.44 L691.22,84.20 L691.82,83.95 L692.42,83.70 L693.02,83.46 L693.62,83.21 L694.22,82.96 L694.82,82.71 L695.41,82.45 L696.01,82.20 L696.61,81.95 L697.21,81.70 L697.81,81.44 L698.40,81.18 L699.00,80.93 L699.59,80.67 L700.19,80.41 L700.79,80.15 L701.38,79.89 L701.98,79.63 L702.57,79.36 L703.17,79.10 L703.76,78.84 L704.36,78.57 L704.95,78.30 L705.54,78.04 L706.14,77.77 L706.73,77.50 L707.32,77.23 L707.92,76.95 L708.51,76.68 L709.10,76.41 L709.69,76.13 L710.29,75.86 L710.88,75.58 L711.47,75.30 L712.06,75.02 L712.65,74.74 L713.24,74.46 L713.83,74.18 L714.42,73.89 L715.01,73.61 L715.60,73.32 L716.19,73.03 L716.78,72.75 L717.37,72.46 L717.96,72.17 L718.55,71.87 L719.14,71.58 L719.73,71.29 L720.32,70.99 L720.91,70.69 L721.49,70.40 L722.08,70.10 L722.67,69.80 L723.26,69.50 L723.85,69.19 L724.43,68.89 L725.02,68.58 L725.61,68.28 L726.20,67.97 L726.78,67.66 L727.37,67.35 L727.96,67.04 L728.54,66.73 L729.13,66.41 L729.71,66.10 L730.30,65.78 L730.89,65.46 L731.47,65.14 L732.06,64.82 L732.64,64.50 L733.23,64.18 L733.82,63.85 L734.40,63.53 L734.99,63.20 L735.57,62.87 L736.16,62.54 L736.74,62.21 L737.33,61.88 L737.91,61.55 L738.49,61.21 L739.08,60.87 L739.66,60.53 L740.25,60.20 L740.83,59.85 L741.42,59.51 L742.00,59.17 L742.58,58.82 L743.17,58.48 L743.75,58.13 L744.34,57.78 L744.92,57.43 L745.50,57.07 L746.09,56.72 L746.67,56.37 L747.25,56.01 L747.84,55.65 L748.42,55.29 L749.01,54.93 L749.59,54.57 L750.17,54.20 L750.76,53.83 L751.34,53.47 L751.92,53.10 L752.51,52.73 L753.09,52.36 L753.67,51.98 L754.25,51.61 L754.84,51.23 L755.42,50.85 L756.00,50.48 L756.59,50.10 L757.17,49.72 L757.75,49.34 L758.34,48.96 L758.92,48.58 L759.50,48.19 L760.09,47.81 L760.67,47.43 L761.25,47.05 L761.84,46.66 L762.42,46.28 L763.00,45.90 L763.59,45.51 L764.17,45.13 L764.75,44.75 L765.34,44.37 L765.92,43.99 L766.50,43.60 L767.09,43.22 L767.67,42.84 L768.26,42.47 L768.84,42.09 L769.42,41.71 L770.01,41.33 L770.59,40.96 L771.18,40.59 L771.76,40.21 L772.34,39.84 L772.93,39.47 L773.51,39.11 L774.10,38.74 L774.68,38.38 L775.27,38.01 L775.85,37.65 L776.44,37.29 L777.02,36.94 L777.61,36.58 L778.19,36.23 L778.78,35.88 L779.36,35.53 L779.95,35.19 L780.53,34.85 L781.12,34.51 L781.71,34.17 L782.29,33.84 L782.88,33.51 L783.47,33.18 L784.05,32.85 L784.64,32.53 L785.23,32.21 L785.81,31.90 L786.40,31.59 L786.99,31.28 L787.58,30.97 L788.16,30.67 L788.75,30.38 L789.34,30.08 L789.93,29.79 L790.52,29.51 L791.10,29.23 L791.69,28.95 L792.28,28.68 L792.87,28.41 L793.46,28.15 L794.05,27.89 L794.64,27.64 L795.23,27.39 L795.82,27.14 L796.41,26.90 L797.00,26.67 L797.59,26.44 L798.18,26.21 L798.77,25.99 L799.37,25.78 L799.96,25.57 L800.55,25.37 L801.14,25.17 L801.73,24.98 L802.33,24.79 L802.92,24.61 L803.51,24.44 L804.11,24.27 L804.70,24.11 L805.29,23.95 L805.89,23.80 L806.48,23.66 L807.08,23.52 L807.67,23.39 L808.27,23.27 L808.86,23.15 L809.46,23.04 L810.05,22.94 L810.65,22.84 L811.25,22.75 L811.84,22.67 L812.44,22.59 L813.04,22.53 L813.64,22.46 L814.24,22.41 L814.83,22.37 L815.43,22.33 L816.03,22.30 L816.63,22.28 L817.23,22.26 L817.83,22.26 L818.43,22.26 L819.03,22.27 L819.63,22.29 L820.23,22.31 L820.84,22.35 L821.44,22.39 L822.04,22.44 L822.64,22.50 L823.25,22.57 L823.85,22.65 L824.45,22.74 L825.06,22.83 L825.66,22.93 L826.27,23.05 L826.87,23.17 L827.48,23.30 L828.08,23.43 L828.69,23.58 L829.29,23.73 L829.90,23.89 L830.50,24.06 L831.11,24.23 L831.71,24.42 L832.32,24.61 L832.92,24.81 L833.52,25.01 L834.13,25.22 L834.73,25.44 L835.34,25.67 L835.94,25.90 L836.54,26.14 L837.14,26.39 L837.75,26.64 L838.35,26.90 L838.95,27.16 L839.55,27.43 L840.15,27.71 L840.75,28.00 L841.35,28.29 L841.94,28.58 L842.54,28.88 L843.14,29.19 L843.73,29.50 L844.33,29.82 L844.92,30.14 L845.52,30.47 L846.11,30.80 L846.70,31.14 L847.29,31.49 L847.88,31.83 L848.47,32.19 L849.05,32.55 L849.64,32.91 L850.22,33.27 L850.81,33.65 L851.39,34.02 L851.97,34.40 L852.55,34.78 L853.13,35.17 L853.71,35.56 L854.28,35.96 L854.86,36.36 L855.43,36.76 L856.00,37.17 L856.57,37.58 L857.14,37.99 L857.70,38.40 L858.27,38.82 L858.83,39.25 L859.39,39.67 L859.95,40.10 L860.51,40.53 L861.07,40.96 L861.62,41.40 L862.17,41.83 L862.72,42.27 L863.27,42.72 L863.82,43.16 L864.36,43.61 L864.91,44.06 L865.45,44.51 L865.99,44.96 L866.52,45.41 L867.06,45.87 L867.59,46.32 L868.12,46.78 L868.64,47.24 L869.17,47.70 L869.69,48.16 L870.21,48.62 L870.73,49.08 L871.25,49.55 L871.76,50.01 L872.28,50.48 L872.79,50.94 L873.30,51.41 L873.80,51.88 L874.31,52.34 L874.82,52.81 L875.32,53.28 L875.82,53.74 L876.32,54.21 L876.82,54.68 L877.32,55.14 L877.82,55.61 L878.31,56.07 L878.81,56.54 L879.30,57.00 L879.80,57.47 L880.29,57.93 L880.78,58.39 L881.27,58.85 L881.77,59.31 L882.26,59.77 L882.75,60.23 L883.24,60.69 L883.73,61.14 L884.22,61.60 L884.70,62.05 L885.19,62.50 L885.68,62.95 L886.17,63.40 L886.66,63.84 L887.15,64.29 L887.64,64.73 L888.13,65.17 L888.62,65.60 L889.11,66.04 L889.61,66.47 L890.10,66.90 L890.59,67.33 L891.08,67.75 L891.58,68.17 L892.07,68.59 L892.57,69.01 L893.07,69.42 L893.57,69.83 L894.07,70.23 L894.57,70.64 L895.07,71.04 L895.57,71.43 L896.08,71.83 L896.59,72.22 L897.09,72.60 L897.60,72.98 L898.11,73.36 L898.63,73.73 L899.14,74.10 L899.66,74.47 L900.18,74.83 L900.70,75.19 L901.22,75.54 L901.75,75.89 L902.28,76.23 L902.81,76.57 L903.34,76.91 L903.87,77.24 L904.41,77.56 L904.95,77.88 L905.49,78.19" stroke="#008c00" stroke-width="2.7"/>
<path d="M173.01,417.78 L173.05,417.19 L173.10,416.53 L173.15,415.87 L173.20,415.21 L173.25,414.55 L173.31,413.88 L173.36,413.22 L173.41,412.56 L173.46,411.90 L173.51,411.24 L173.56,410.58 L173.60,409.91 L173.65,409.25 L173.70,408.59 L173.75,407.93 L173.80,407.31M175.21,387.49 L175.22,387.41 L175.26,386.75 L175.31,386.09 L175.35,385.42 L175.40,384.76 L175.44,384.10 L175.49,383.44 L175.53,382.77 L175.58,382.11 L175.62,381.45 L175.67,380.79 L175.71,380.13 L175.76,379.46 L175.80,378.80 L175.85,378.14 L175.89,377.48 L175.93,377.01M177.23,356.85 L177.27,356.29 L177.31,355.62 L177.35,354.96 L177.39,354.30 L177.43,353.64 L177.47,352.97 L177.52,352.31 L177.56,351.65 L177.60,350.99 L177.64,350.32 L177.68,349.66 L177.72,349.00 L177.77,348.34 L177.81,347.67 L177.85,347.01 L177.89,346.37M179.15,325.76 L179.19,325.15 L179.23,324.49 L179.27,323.83 L179.32,323.16 L179.36,322.50 L179.40,321.84 L179.44,321.18 L179.48,320.51 L179.52,319.85 L179.56,319.19 L179.60,318.53 L179.64,317.86 L179.68,317.20 L179.72,316.54 L179.76,315.88 L179.80,315.28M181.05,294.91 L181.06,294.68 L181.10,294.01 L181.15,293.35 L181.19,292.69 L181.23,292.03 L181.27,291.36 L181.31,290.70 L181.35,290.04 L181.39,289.38 L181.44,288.71 L181.48,288.05 L181.52,287.39 L181.56,286.73 L181.60,286.06 L181.64,285.40 L181.68,284.74 L181.70,284.43M183.00,264.29 L183.01,264.21 L183.05,263.55 L183.10,262.88 L183.14,262.22 L183.19,261.56 L183.23,260.90 L183.28,260.23 L183.32,259.57 L183.36,258.91 L183.41,258.25 L183.45,257.59 L183.50,256.92 L183.54,256.26 L183.59,255.60 L183.63,254.94 L183.68,254.27 L183.71,253.82M185.14,233.67 L185.18,233.09 L185.23,232.43 L185.28,231.77 L185.33,231.11 L185.38,230.44 L185.43,229.78 L185.48,229.12 L185.53,228.46 L185.58,227.80 L185.63,227.13 L185.68,226.47 L185.73,225.81 L185.78,225.15 L185.83,224.49 L185.88,223.83 L185.93,223.20M187.57,202.75 L187.58,202.66 L187.63,202.00 L187.69,201.34 L187.75,200.67 L187.80,200.01 L187.86,199.35 L187.92,198.69 L187.97,198.03 L188.03,197.37 L188.09,196.71 L188.15,196.05 L188.20,195.38 L188.26,194.72 L188.32,194.06 L188.38,193.40 L188.44,192.74 L188.47,192.29M190.38,171.87 L190.41,171.59 L190.47,170.93 L190.54,170.27 L190.60,169.61 L190.67,168.95 L190.74,168.29 L190.80,167.63 L190.87,166.97 L190.93,166.31 L191.00,165.65 L191.07,164.99 L191.14,164.33 L191.20,163.67 L191.27,163.01 L191.34,162.35 L191.41,161.69 L191.44,161.42M193.67,141.02 L193.72,140.57 L193.79,139.91 L193.87,139.25 L193.95,138.59 L194.02,137.93 L194.10,137.28 L194.18,136.62 L194.25,135.96 L194.33,135.30 L194.41,134.64 L194.49,133.98 L194.56,133.32 L194.64,132.66 L194.72,132.00 L194.80,131.34 L194.88,130.69 L194.89,130.59M197.45,110.20 L197.53,109.63 L197.61,108.98 L197.70,108.32 L197.79,107.66 L197.88,107.01 L197.96,106.35 L198.05,105.69 L198.14,105.04 L198.23,104.38 L198.31,103.72 L198.40,103.07 L198.49,102.41 L198.58,101.76 L198.67,101.10 L198.76,100.44 L198.85,99.79M201.68,79.78 L201.72,79.50 L201.82,78.85 L201.91,78.19 L202.01,77.54 L202.11,76.89 L202.21,76.23 L202.31,75.58 L202.41,74.93 L202.51,74.28 L202.61,73.62 L202.72,72.97 L202.82,72.32 L202.93,71.66 L203.03,71.01 L203.14,70.36 L203.25,69.70 L203.30,69.41M207.56,50.14 L207.59,50.02 L207.78,49.36 L207.97,48.70 L208.17,48.04 L208.37,47.38 L208.58,46.72 L208.79,46.05 L209.00,45.39 L209.22,44.73 L209.45,44.06 L209.67,43.40 L209.90,42.73 L210.14,42.07 L210.38,41.40 L210.62,40.74 L210.83,40.17M220.26,23.27 L220.64,22.94 L221.04,22.63 L221.44,22.34 L221.85,22.09 L222.27,21.86 L222.69,21.66 L223.11,21.49 L223.54,21.36 L223.97,21.26 L224.41,21.19 L224.85,21.16 L225.29,21.16 L225.74,21.20 L226.20,21.27 L226.65,21.37 L227.11,21.50 L227.57,21.66 L228.04,21.85 L228.50,22.07 L228.97,22.32 L229.43,22.59 L229.83,22.85M242.13,38.67 L242.14,38.68 L242.46,39.34 L242.78,40.00 L243.10,40.67 L243.40,41.33 L243.70,41.99 L244.00,42.66 L244.29,43.32 L244.57,43.98 L244.85,44.65 L245.13,45.31 L245.40,45.97 L245.67,46.63 L245.94,47.29 L246.20,47.95 L246.34,48.28M253.93,67.21 L254.02,67.43 L254.26,68.03 L254.51,68.64 L254.75,69.24 L255.00,69.85 L255.24,70.45 L255.49,71.05 L255.73,71.66 L255.98,72.26 L256.22,72.86 L256.47,73.46 L256.71,74.06 L256.96,74.66 L257.20,75.26 L257.44,75.86 L257.69,76.46 L257.88,76.93M265.49,95.47 L265.61,95.77 L265.86,96.38 L266.11,96.98 L266.37,97.59 L266.62,98.19 L266.87,98.80 L267.13,99.41 L267.38,100.01 L267.64,100.62 L267.90,101.22 L268.15,101.83 L268.41,102.44 L268.67,103.04 L268.92,103.65 L269.18,104.26 L269.44,104.86 L269.56,105.15M277.58,123.18 L277.79,123.63 L278.07,124.24 L278.35,124.84 L278.64,125.44 L278.92,126.05 L279.20,126.65 L279.49,127.25 L279.78,127.85 L280.06,128.46 L280.35,129.06 L280.64,129.66 L280.93,130.26 L281.22,130.86 L281.51,131.46 L281.81,132.06 L282.10,132.66M291.11,149.95 L291.43,150.52 L291.76,151.11 L292.09,151.70 L292.43,152.28 L292.76,152.87 L293.10,153.45 L293.44,154.04 L293.78,154.62 L294.13,155.20 L294.47,155.77 L294.82,156.35 L295.17,156.92 L295.52,157.50 L295.88,158.07 L296.24,158.63 L296.46,158.98M308.79,174.36 L309.07,174.62 L309.55,175.06 L310.04,175.50 L310.54,175.94 L311.04,176.37 L311.54,176.79 L312.05,177.21 L312.57,177.62 L313.09,178.02 L313.62,178.42 L314.15,178.81 L314.69,179.20 L315.24,179.58 L315.79,179.95 L316.35,180.32 L316.91,180.68 L317.08,180.78M335.61,186.96 L335.69,186.96 L336.32,186.97 L336.95,186.96 L337.57,186.93 L338.19,186.88 L338.81,186.83 L339.42,186.75 L340.03,186.66 L340.64,186.56 L341.24,186.44 L341.84,186.31 L342.44,186.17 L343.03,186.01 L343.63,185.83 L344.22,185.65 L344.80,185.45 L345.38,185.24 L345.86,185.06M361.52,174.31 L361.53,174.30 L362.02,173.82 L362.52,173.34 L363.01,172.85 L363.49,172.36 L363.98,171.87 L364.46,171.37 L364.94,170.87 L365.42,170.36 L365.89,169.86 L366.36,169.35 L366.83,168.83 L367.30,168.32 L367.76,167.80 L368.22,167.29 L368.68,166.77 L368.74,166.70M380.93,151.49 L381.01,151.38 L381.40,150.84 L381.79,150.30 L382.18,149.76 L382.57,149.21 L382.96,148.67 L383.35,148.13 L383.73,147.58 L384.11,147.04 L384.49,146.49 L384.87,145.95 L385.25,145.40 L385.62,144.86 L386.00,144.31 L386.37,143.76 L386.74,143.21 L386.95,142.89M397.95,125.53 L398.00,125.44 L398.33,124.88 L398.67,124.32 L399.01,123.76 L399.34,123.19 L399.67,122.63 L400.01,122.07 L400.34,121.51 L400.67,120.94 L401.00,120.38 L401.34,119.82 L401.67,119.25 L402.00,118.69 L402.33,118.13 L402.66,117.56 L402.99,117.00 L403.29,116.49M413.82,98.32 L413.82,98.32 L414.16,97.76 L414.49,97.19 L414.82,96.63 L415.16,96.06 L415.49,95.49 L415.83,94.93 L416.16,94.36 L416.50,93.80 L416.84,93.23 L417.18,92.67 L417.52,92.10 L417.86,91.54 L418.20,90.97 L418.55,90.41 L418.89,89.84 L419.21,89.31M430.76,71.94 L431.16,71.38 L431.57,70.83 L431.98,70.28 L432.40,69.73 L432.81,69.18 L433.23,68.63 L433.65,68.08 L434.08,67.53 L434.51,66.98 L434.94,66.43 L435.37,65.88 L435.81,65.33 L436.25,64.79 L436.69,64.24 L437.13,63.69 L437.18,63.63M453.13,50.61 L453.40,50.54 L453.98,50.42 L454.56,50.31 L455.15,50.23 L455.74,50.17 L456.33,50.14 L456.93,50.13 L457.52,50.13 L458.12,50.16 L458.71,50.22 L459.31,50.29 L459.90,50.38 L460.50,50.49 L461.09,50.62 L461.68,50.77 L462.27,50.94 L462.85,51.13 L463.43,51.33 L463.45,51.34M477.92,65.36 L478.18,65.85 L478.49,66.45 L478.79,67.06 L479.09,67.68 L479.39,68.29 L479.67,68.92 L479.96,69.55 L480.24,70.18 L480.51,70.81 L480.79,71.45 L481.05,72.09 L481.32,72.73 L481.58,73.37 L481.83,74.02 L482.09,74.66 L482.20,74.94M488.87,94.36 L488.97,94.70 L489.17,95.35 L489.36,95.99 L489.55,96.64 L489.74,97.28 L489.93,97.93 L490.12,98.57 L490.30,99.22 L490.49,99.86 L490.67,100.50 L490.85,101.15 L491.03,101.79 L491.21,102.44 L491.38,103.08 L491.56,103.73 L491.73,104.37 L491.75,104.45M496.58,124.29 L496.59,124.34 L496.73,124.99 L496.88,125.63 L497.02,126.28 L497.16,126.92 L497.30,127.57 L497.44,128.21 L497.57,128.86 L497.71,129.50 L497.85,130.15 L497.99,130.80 L498.12,131.44 L498.26,132.09 L498.39,132.73 L498.53,133.38 L498.66,134.02 L498.78,134.56M502.73,154.57 L502.76,154.74 L502.89,155.39 L503.01,156.04 L503.13,156.69 L503.25,157.34 L503.37,157.99 L503.50,158.64 L503.62,159.29 L503.74,159.94 L503.86,160.59 L503.98,161.24 L504.09,161.89 L504.21,162.54 L504.33,163.19 L504.45,163.84 L504.57,164.49 L504.64,164.89M508.24,185.67 L508.29,185.99 L508.40,186.64 L508.51,187.30 L508.61,187.95 L508.72,188.60 L508.83,189.26 L508.93,189.91 L509.04,190.56 L509.15,191.22 L509.25,191.87 L509.36,192.52 L509.46,193.18 L509.57,193.83 L509.67,194.49 L509.78,195.14 L509.88,195.79 L509.92,196.04M512.98,216.08 L512.98,216.10 L513.07,216.76 L513.17,217.41 L513.26,218.07 L513.36,218.73 L513.45,219.38 L513.55,220.04 L513.64,220.70 L513.74,221.35 L513.83,222.01 L513.93,222.67 L514.02,223.32 L514.11,223.98 L514.21,224.64 L514.30,225.29 L514.39,225.95 L514.46,226.48M517.17,246.43 L517.25,246.99 L517.34,247.65 L517.42,248.31 L517.51,248.97 L517.59,249.63 L517.68,250.29 L517.76,250.95 L517.85,251.60 L517.93,252.26 L518.02,252.92 L518.10,253.58 L518.19,254.24 L518.27,254.90 L518.35,255.56 L518.44,256.22 L518.52,256.84M520.99,277.00 L521.03,277.32 L521.11,277.98 L521.19,278.64 L521.27,279.30 L521.35,279.96 L521.42,280.62 L521.50,281.28 L521.58,281.94 L521.66,282.60 L521.73,283.26 L521.81,283.92 L521.89,284.58 L521.97,285.24 L522.04,285.90 L522.12,286.56 L522.20,287.22 L522.22,287.43M524.54,307.93 L524.59,308.36 L524.67,309.02 L524.74,309.68 L524.81,310.34 L524.89,311.00 L524.96,311.66 L525.03,312.32 L525.11,312.98 L525.18,313.64 L525.25,314.30 L525.32,314.96 L525.40,315.63 L525.47,316.29 L525.54,316.95 L525.61,317.61 L525.68,318.27 L525.69,318.36M527.89,338.79 L527.96,339.41 L528.03,340.07 L528.10,340.73 L528.17,341.39 L528.24,342.06 L528.31,342.72 L528.38,343.38 L528.45,344.04 L528.52,344.70 L528.59,345.36 L528.66,346.02 L528.73,346.68 L528.80,347.34 L528.87,348.00 L528.94,348.66 L529.00,349.23M531.14,369.57 L531.16,369.79 L531.23,370.45 L531.30,371.11 L531.37,371.77 L531.44,372.43 L531.51,373.09 L531.58,373.75 L531.65,374.41 L531.72,375.07 L531.78,375.73 L531.85,376.39 L531.92,377.05 L531.99,377.71 L532.06,378.37 L532.13,379.02 L532.20,379.68 L532.24,380.01M534.40,400.32 L534.45,400.77 L534.52,401.43 L534.59,402.09 L534.66,402.74 L534.73,403.40 L534.80,404.06 L534.87,404.72 L534.94,405.38 L535.01,406.03 L535.08,406.69 L535.16,407.35 L535.23,408.01 L535.30,408.67 L535.37,409.32 L535.44,409.98 L535.51,410.64 L535.52,410.76" stroke="#f23535" stroke-width="3"/>
</g>
<g fill="none" stroke="#000" stroke-width="2.2">
<path d="M103.70,8.30V419.50M92.20,419.50H917.10M906.30,8.30V419.50"/>
<path d="M92.20,9.50H103.70M97.70,60.75H103.70M92.20,112.00H103.70M97.70,163.25H103.70M92.20,214.50H103.70M97.70,265.75H103.70M92.20,317.00H103.70M97.70,368.25H103.70M906.30,9.50H917.10M906.30,60.75H911.80M906.30,112.00H917.10M906.30,163.25H911.80M906.30,214.50H917.10M906.30,265.75H911.80M906.30,317.00H917.10M906.30,368.25H911.80M103.70,419.50V425.00M134.57,419.50V430.50M165.44,419.50V425.00M196.31,419.50V430.50M227.18,419.50V425.00M258.05,419.50V430.50M288.92,419.50V425.00M319.78,419.50V430.50M350.65,419.50V425.00M381.52,419.50V430.50M412.39,419.50V425.00M443.26,419.50V430.50M474.13,419.50V425.00M505.00,419.50V430.50M535.87,419.50V425.00M566.74,419.50V430.50M597.61,419.50V425.00M628.48,419.50V430.50M659.35,419.50V425.00M690.22,419.50V430.50M721.08,419.50V425.00M751.95,419.50V430.50M782.82,419.50V425.00M813.69,419.50V430.50M844.56,419.50V425.00M875.43,419.50V430.50M906.30,419.50V425.00"/>
</g>
<g class="tk" fill="#1a1a1a"><text transform="translate(84.00,19.50) scale(1,0.93)" text-anchor="end">0</text><text transform="translate(84.00,122.00) scale(1,0.93)" text-anchor="end">−10</text><text transform="translate(84.00,224.50) scale(1,0.93)" text-anchor="end">−20</text><text transform="translate(84.00,327.00) scale(1,0.93)" text-anchor="end">−30</text><text transform="translate(84.00,429.50) scale(1,0.93)" text-anchor="end">−40</text><text transform="translate(926.50,19.50) scale(1,0.93)" text-anchor="start">100%</text><text transform="translate(926.50,122.00) scale(1,0.93)" text-anchor="start">95%</text><text transform="translate(926.50,224.50) scale(1,0.93)" text-anchor="start">90%</text><text transform="translate(926.50,327.00) scale(1,0.93)" text-anchor="start">85%</text><text transform="translate(926.50,429.50) scale(1,0.93)" text-anchor="start">80%</text><text transform="translate(134.57,461.20) scale(1,0.93)" text-anchor="middle">6</text><text transform="translate(196.31,461.20) scale(1,0.93)" text-anchor="middle">8</text><text transform="translate(258.05,461.20) scale(1,0.93)" text-anchor="middle">10</text><text transform="translate(319.78,461.20) scale(1,0.93)" text-anchor="middle">12</text><text transform="translate(381.52,461.20) scale(1,0.93)" text-anchor="middle">14</text><text transform="translate(443.26,461.20) scale(1,0.93)" text-anchor="middle">16</text><text transform="translate(505.00,461.20) scale(1,0.93)" text-anchor="middle">18</text><text transform="translate(566.74,461.20) scale(1,0.93)" text-anchor="middle">20</text><text transform="translate(628.48,461.20) scale(1,0.93)" text-anchor="middle">22</text><text transform="translate(690.22,461.20) scale(1,0.93)" text-anchor="middle">24</text><text transform="translate(751.95,461.20) scale(1,0.93)" text-anchor="middle">26</text><text transform="translate(813.69,461.20) scale(1,0.93)" text-anchor="middle">28</text><text transform="translate(875.43,461.20) scale(1,0.93)" text-anchor="middle">30</text></g>
<g fill="none" stroke="#000" stroke-width="2.2">
<ellipse cx="208.6" cy="242.5" rx="16" ry="26.3" transform="rotate(2 208.6 242.5)"/>
<ellipse cx="526.8" cy="309.2" rx="16.3" ry="26.8"/>
<path d="M209.5,215H158M526,281.5H578"/>
</g>
<path d="M149.2,215L160.5,211.3L160.5,218.7Z" fill="#000"/>
<path d="M588.8,281.5L577.3,278.2L577.3,284.8Z" fill="#000"/>
<rect x="712.7" y="305.9" width="177.9" height="70.3" fill="none" stroke="#5a5a5a" stroke-width="1.2"/>
<g stroke-width="3.5" stroke-linecap="round">
<path d="M716.5,318.8H755.5" stroke="#000"/>
<path d="M716.5,341.7H755.5" stroke="#008c00"/>
<path d="M716.5,363.8H728.5M746.5,363.8H755.5" stroke="#f23535"/>
</g>
<text style="font-family:&quot;Noto Serif CJK SC&quot;,&quot;Liberation Serif&quot;,serif;font-feature-settings:&quot;hwid&quot; 1;font-weight:300;" font-size="20.1" fill="#262626" transform="translate(816.2,326.4) scale(1,0.94)">S11</text><text style="font-family:&quot;Noto Serif CJK SC&quot;,&quot;Liberation Serif&quot;,serif;font-feature-settings:&quot;hwid&quot; 1;font-weight:300;" font-size="20.1" fill="#262626" transform="translate(816.2,348.8) scale(1,0.94)">S21</text><text style="font-family:&quot;Noto Serif CJK SC&quot;,&quot;Liberation Serif&quot;,serif;font-feature-settings:&quot;hwid&quot; 1;font-weight:300;" font-size="20.1" fill="#262626" transform="translate(765.7,370.9) scale(1,0.94)">Absorptivity</text>
<text style="font-family:&quot;Noto Serif CJK SC&quot;,&quot;Liberation Serif&quot;,serif;font-feature-settings:&quot;hwid&quot; 1;" font-size="31.68" fill="#111" transform="translate(392.4,505.2) scale(1,0.94)">Frequency(GHz)</text>
<text style="font-family:&quot;Noto Serif CJK SC&quot;,&quot;Liberation Serif&quot;,serif;font-feature-settings:&quot;hwid&quot; 1;" font-size="31.68" fill="#111" transform="translate(26.2,343.0) rotate(-90) scale(1,0.94)">S paparmeter(dB)</text>
<text style="font-family:&quot;Noto Serif CJK SC&quot;,&quot;Liberation Serif&quot;,serif;font-feature-settings:&quot;hwid&quot; 1;" font-size="31.68" fill="#111" transform="translate(1010.8,301.8) rotate(-90) scale(1,0.94)">Absorptivity</text>
</svg>
</body></html>
